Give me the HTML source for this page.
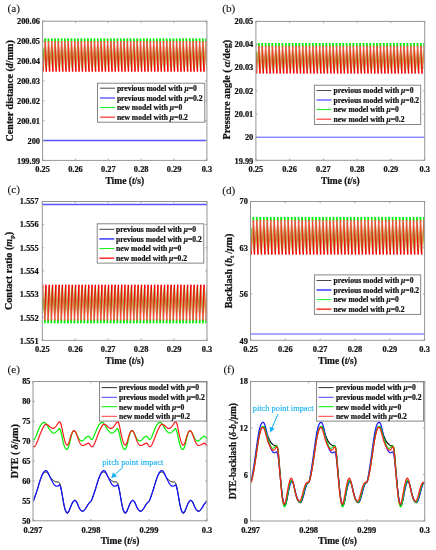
<!DOCTYPE html>
<html lang="en"><head><meta charset="utf-8"><title>Figure</title>
<style>html,body{margin:0;padding:0;background:#fff;}svg{display:block;}text{fill:#111;stroke:#111;stroke-width:.22px;}text.ns{stroke-width:.1px;}text.cy{fill:#12b0f0;stroke:#12b0f0;stroke-width:.12px;}</style></head><body>
<svg width="436" height="550" viewBox="0 0 436 550" font-family="'Liberation Serif', 'DejaVu Serif', serif" >
<rect width="436" height="550" fill="#fff"/>
<defs><filter id="wb" x="0" y="0" width="436" height="550" filterUnits="userSpaceOnUse"><feGaussianBlur stdDeviation="0.6"/></filter></defs>
<g>
<line x1="43.3" y1="48.5" x2="43.3" y2="60" stroke="#00ee00" stroke-width="1.2"/>
<defs><clipPath id="ca"><rect x="42.9" y="21.2" width="163.7" height="139.2"/></clipPath>
<linearGradient id="bga" x1="0" y1="44.67" x2="0" y2="67.93" gradientUnits="userSpaceOnUse"><stop offset="0" stop-color="#bca848" stop-opacity="0"/><stop offset="0.4" stop-color="#bca848" stop-opacity="0.75"/><stop offset="0.6" stop-color="#bca848" stop-opacity="0.75"/><stop offset="1" stop-color="#bca848" stop-opacity="0"/></linearGradient>
<linearGradient id="rga" x1="0" y1="41" x2="0" y2="71.6" gradientUnits="userSpaceOnUse"><stop offset="0" stop-color="#ff5248"/><stop offset="0.5" stop-color="#e22a12"/><stop offset="1" stop-color="#f60000"/></linearGradient></defs>
<g clip-path="url(#ca)"><g filter="url(#wb)" fill="none">
<rect x="42.6" y="44.67" width="164.3" height="23.26" fill="url(#bga)"/>
<path d="M38.21 38.4L39.31 68.5M41.49 38.4L42.59 68.5M44.78 38.4L45.88 68.5M48.06 38.4L49.16 68.5M51.35 38.4L52.45 68.5M54.64 38.4L55.74 68.5M57.92 38.4L59.02 68.5M61.21 38.4L62.31 68.5M64.49 38.4L65.59 68.5M67.78 38.4L68.88 68.5M71.07 38.4L72.17 68.5M74.35 38.4L75.45 68.5M77.64 38.4L78.74 68.5M80.92 38.4L82.02 68.5M84.21 38.4L85.31 68.5M87.5 38.4L88.6 68.5M90.78 38.4L91.88 68.5M94.07 38.4L95.17 68.5M97.35 38.4L98.45 68.5M100.64 38.4L101.74 68.5M103.93 38.4L105.03 68.5M107.21 38.4L108.31 68.5M110.5 38.4L111.6 68.5M113.78 38.4L114.88 68.5M117.07 38.4L118.17 68.5M120.36 38.4L121.46 68.5M123.64 38.4L124.74 68.5M126.93 38.4L128.03 68.5M130.21 38.4L131.31 68.5M133.5 38.4L134.6 68.5M136.79 38.4L137.89 68.5M140.07 38.4L141.17 68.5M143.36 38.4L144.46 68.5M146.64 38.4L147.74 68.5M149.93 38.4L151.03 68.5M153.22 38.4L154.32 68.5M156.5 38.4L157.6 68.5M159.79 38.4L160.89 68.5M163.07 38.4L164.17 68.5M166.36 38.4L167.46 68.5M169.65 38.4L170.75 68.5M172.93 38.4L174.03 68.5M176.22 38.4L177.32 68.5M179.5 38.4L180.6 68.5M182.79 38.4L183.89 68.5M186.08 38.4L187.18 68.5M189.36 38.4L190.46 68.5M192.65 38.4L193.75 68.5M195.93 38.4L197.03 68.5M199.22 38.4L200.32 68.5M202.51 38.4L203.61 68.5M205.79 38.4L206.89 68.5M209.08 38.4L210.18 68.5" stroke="#00e800" stroke-width="1.0" stroke-opacity="0.75"/>
<path d="M39.76 71.6L41.94 41M43.04 71.6L45.23 41M46.33 71.6L48.51 41M49.61 71.6L51.8 41M52.9 71.6L55.09 41M56.19 71.6L58.37 41M59.47 71.6L61.66 41M62.76 71.6L64.94 41M66.04 71.6L68.23 41M69.33 71.6L71.52 41M72.62 71.6L74.8 41M75.9 71.6L78.09 41M79.19 71.6L81.37 41M82.47 71.6L84.66 41M85.76 71.6L87.95 41M89.05 71.6L91.23 41M92.33 71.6L94.52 41M95.62 71.6L97.8 41M98.9 71.6L101.09 41M102.19 71.6L104.38 41M105.48 71.6L107.66 41M108.76 71.6L110.95 41M112.05 71.6L114.23 41M115.33 71.6L117.52 41M118.62 71.6L120.81 41M121.91 71.6L124.09 41M125.19 71.6L127.38 41M128.48 71.6L130.66 41M131.76 71.6L133.95 41M135.05 71.6L137.24 41M138.34 71.6L140.52 41M141.62 71.6L143.81 41M144.91 71.6L147.09 41M148.19 71.6L150.38 41M151.48 71.6L153.67 41M154.77 71.6L156.95 41M158.05 71.6L160.24 41M161.34 71.6L163.52 41M164.62 71.6L166.81 41M167.91 71.6L170.1 41M171.2 71.6L173.38 41M174.48 71.6L176.67 41M177.77 71.6L179.95 41M181.05 71.6L183.24 41M184.34 71.6L186.53 41M187.63 71.6L189.81 41M190.91 71.6L193.1 41M194.2 71.6L196.38 41M197.48 71.6L199.67 41M200.77 71.6L202.96 41M204.06 71.6L206.24 41M207.34 71.6L209.53 41M210.63 71.6L212.81 41" stroke="#ff2a1a" stroke-width="0.55" stroke-opacity="0.8"/>
<path d="M38.66 38.4L38.77 42.5M41.94 38.4L42.05 42.5M45.23 38.4L45.34 42.5M48.51 38.4L48.62 42.5M51.8 38.4L51.91 42.5M55.09 38.4L55.2 42.5M58.37 38.4L58.48 42.5M61.66 38.4L61.77 42.5M64.94 38.4L65.05 42.5M68.23 38.4L68.34 42.5M71.52 38.4L71.63 42.5M74.8 38.4L74.91 42.5M78.09 38.4L78.2 42.5M81.37 38.4L81.48 42.5M84.66 38.4L84.77 42.5M87.95 38.4L88.06 42.5M91.23 38.4L91.34 42.5M94.52 38.4L94.63 42.5M97.8 38.4L97.91 42.5M101.09 38.4L101.2 42.5M104.38 38.4L104.49 42.5M107.66 38.4L107.77 42.5M110.95 38.4L111.06 42.5M114.23 38.4L114.34 42.5M117.52 38.4L117.63 42.5M120.81 38.4L120.92 42.5M124.09 38.4L124.2 42.5M127.38 38.4L127.49 42.5M130.66 38.4L130.77 42.5M133.95 38.4L134.06 42.5M137.24 38.4L137.35 42.5M140.52 38.4L140.63 42.5M143.81 38.4L143.92 42.5M147.09 38.4L147.2 42.5M150.38 38.4L150.49 42.5M153.67 38.4L153.78 42.5M156.95 38.4L157.06 42.5M160.24 38.4L160.35 42.5M163.52 38.4L163.63 42.5M166.81 38.4L166.92 42.5M170.1 38.4L170.21 42.5M173.38 38.4L173.49 42.5M176.67 38.4L176.78 42.5M179.95 38.4L180.06 42.5M183.24 38.4L183.35 42.5M186.53 38.4L186.64 42.5M189.81 38.4L189.92 42.5M193.1 38.4L193.21 42.5M196.38 38.4L196.49 42.5M199.67 38.4L199.78 42.5M202.96 38.4L203.07 42.5M206.24 38.4L206.35 42.5M209.53 38.4L209.64 42.5" stroke="#00f000" stroke-width="1.6"/>
<path d="M38.66 41L39.76 71.6M41.94 41L43.04 71.6M45.23 41L46.33 71.6M48.51 41L49.61 71.6M51.8 41L52.9 71.6M55.09 41L56.19 71.6M58.37 41L59.47 71.6M61.66 41L62.76 71.6M64.94 41L66.04 71.6M68.23 41L69.33 71.6M71.52 41L72.62 71.6M74.8 41L75.9 71.6M78.09 41L79.19 71.6M81.37 41L82.47 71.6M84.66 41L85.76 71.6M87.95 41L89.05 71.6M91.23 41L92.33 71.6M94.52 41L95.62 71.6M97.8 41L98.9 71.6M101.09 41L102.19 71.6M104.38 41L105.48 71.6M107.66 41L108.76 71.6M110.95 41L112.05 71.6M114.23 41L115.33 71.6M117.52 41L118.62 71.6M120.81 41L121.91 71.6M124.09 41L125.19 71.6M127.38 41L128.48 71.6M130.66 41L131.76 71.6M133.95 41L135.05 71.6M137.24 41L138.34 71.6M140.52 41L141.62 71.6M143.81 41L144.91 71.6M147.09 41L148.19 71.6M150.38 41L151.48 71.6M153.67 41L154.77 71.6M156.95 41L158.05 71.6M160.24 41L161.34 71.6M163.52 41L164.62 71.6M166.81 41L167.91 71.6M170.1 41L171.2 71.6M173.38 41L174.48 71.6M176.67 41L177.77 71.6M179.95 41L181.05 71.6M183.24 41L184.34 71.6M186.53 41L187.63 71.6M189.81 41L190.91 71.6M193.1 41L194.2 71.6M196.38 41L197.48 71.6M199.67 41L200.77 71.6M202.96 41L204.06 71.6M206.24 41L207.34 71.6M209.53 41L210.63 71.6" stroke="url(#rga)" stroke-width="1.45"/>
<path d="M39.21 56.3L39.76 71.6M42.49 56.3L43.04 71.6M45.78 56.3L46.33 71.6M49.06 56.3L49.61 71.6M52.35 56.3L52.9 71.6M55.64 56.3L56.19 71.6M58.92 56.3L59.47 71.6M62.21 56.3L62.76 71.6M65.49 56.3L66.04 71.6M68.78 56.3L69.33 71.6M72.07 56.3L72.62 71.6M75.35 56.3L75.9 71.6M78.64 56.3L79.19 71.6M81.92 56.3L82.47 71.6M85.21 56.3L85.76 71.6M88.5 56.3L89.05 71.6M91.78 56.3L92.33 71.6M95.07 56.3L95.62 71.6M98.35 56.3L98.9 71.6M101.64 56.3L102.19 71.6M104.93 56.3L105.48 71.6M108.21 56.3L108.76 71.6M111.5 56.3L112.05 71.6M114.78 56.3L115.33 71.6M118.07 56.3L118.62 71.6M121.36 56.3L121.91 71.6M124.64 56.3L125.19 71.6M127.93 56.3L128.48 71.6M131.21 56.3L131.76 71.6M134.5 56.3L135.05 71.6M137.79 56.3L138.34 71.6M141.07 56.3L141.62 71.6M144.36 56.3L144.91 71.6M147.64 56.3L148.19 71.6M150.93 56.3L151.48 71.6M154.22 56.3L154.77 71.6M157.5 56.3L158.05 71.6M160.79 56.3L161.34 71.6M164.07 56.3L164.62 71.6M167.36 56.3L167.91 71.6M170.65 56.3L171.2 71.6M173.93 56.3L174.48 71.6M177.22 56.3L177.77 71.6M180.5 56.3L181.05 71.6M183.79 56.3L184.34 71.6M187.08 56.3L187.63 71.6M190.36 56.3L190.91 71.6M193.65 56.3L194.2 71.6M196.93 56.3L197.48 71.6M200.22 56.3L200.77 71.6M203.51 56.3L204.06 71.6M206.79 56.3L207.34 71.6M210.08 56.3L210.63 71.6" stroke="#f00000" stroke-width="0.35"/>
</g></g>
<line x1="42.6" y1="140.5" x2="206.9" y2="140.5" stroke="#5555ff" stroke-width="1.3"/>
<rect x="42.6" y="21.2" width="164.3" height="139.2" fill="none" stroke="#969696" stroke-width="1.0"/>
<path d="M42.6 160.4v-1.8M42.6 21.2v1.8M75.46 160.4v-1.8M75.46 21.2v1.8M108.32 160.4v-1.8M108.32 21.2v1.8M141.18 160.4v-1.8M141.18 21.2v1.8M174.04 160.4v-1.8M174.04 21.2v1.8M206.9 160.4v-1.8M206.9 21.2v1.8M42.6 160.4h1.8M206.9 160.4h-1.8M42.6 140.51h1.8M206.9 140.51h-1.8M42.6 120.63h1.8M206.9 120.63h-1.8M42.6 100.74h1.8M206.9 100.74h-1.8M42.6 80.86h1.8M206.9 80.86h-1.8M42.6 60.97h1.8M206.9 60.97h-1.8M42.6 41.09h1.8M206.9 41.09h-1.8M42.6 21.2h1.8M206.9 21.2h-1.8" stroke="#969696" stroke-width="0.8" fill="none"/>
<text x="42.6" y="172.3" text-anchor="middle" font-size="8.4" font-weight="bold">0.25</text>
<text x="75.46" y="172.3" text-anchor="middle" font-size="8.4" font-weight="bold">0.26</text>
<text x="108.32" y="172.3" text-anchor="middle" font-size="8.4" font-weight="bold">0.27</text>
<text x="141.18" y="172.3" text-anchor="middle" font-size="8.4" font-weight="bold">0.28</text>
<text x="174.04" y="172.3" text-anchor="middle" font-size="8.4" font-weight="bold">0.29</text>
<text x="206.9" y="172.3" text-anchor="middle" font-size="8.4" font-weight="bold">0.3</text>
<text x="40" y="163.85" text-anchor="end" font-size="8.4" font-weight="bold">199.99</text>
<text x="40" y="143.82" text-anchor="end" font-size="8.4" font-weight="bold">200</text>
<text x="40" y="123.79" text-anchor="end" font-size="8.4" font-weight="bold">200.01</text>
<text x="40" y="103.76" text-anchor="end" font-size="8.4" font-weight="bold">200.02</text>
<text x="40" y="83.74" text-anchor="end" font-size="8.4" font-weight="bold">200.03</text>
<text x="40" y="63.71" text-anchor="end" font-size="8.4" font-weight="bold">200.04</text>
<text x="40" y="43.68" text-anchor="end" font-size="8.4" font-weight="bold">200.05</text>
<text x="40" y="23.65" text-anchor="end" font-size="8.4" font-weight="bold">200.06</text>
<text x="124.75" y="183.6" text-anchor="middle" font-size="9.5" font-weight="bold">Time (<tspan font-style="italic">t</tspan>/s)</text>
<text transform="translate(13.2 90.8) rotate(-90)" text-anchor="middle" font-size="10.1" font-weight="bold">Center distance (<tspan font-style="italic">d</tspan>/mm)</text>
<text x="7.6" y="11.8" font-size="11.2" class="ns">(a)</text>
<rect x="97.5" y="83.2" width="107.3" height="39" fill="#fff" stroke="#7a7a7a" stroke-width="0.9"/>
<line x1="100" y1="88.2" x2="115.1" y2="88.2" stroke="#1a1a1a" stroke-width="0.8"/>
<text x="116.9" y="91" font-size="7.6" font-weight="bold">previous model with <tspan font-style="italic">μ</tspan>=0</text>
<line x1="100" y1="98" x2="115.1" y2="98" stroke="#4646ff" stroke-width="1.25"/>
<text x="116.9" y="100.8" font-size="7.6" font-weight="bold">previous model with <tspan font-style="italic">μ</tspan>=0.2</text>
<line x1="100" y1="107.5" x2="115.1" y2="107.5" stroke="#00f000" stroke-width="0.9"/>
<text x="116.9" y="110.3" font-size="7.6" font-weight="bold">new model with <tspan font-style="italic">μ</tspan>=0</text>
<line x1="100" y1="117.2" x2="115.1" y2="117.2" stroke="#ff3c3c" stroke-width="1.25"/>
<text x="116.9" y="120" font-size="7.6" font-weight="bold">new model with <tspan font-style="italic">μ</tspan>=0.2</text>
</g>
<g>
<line x1="256.6" y1="51.8" x2="256.6" y2="62.7" stroke="#00ee00" stroke-width="1.2"/>
<defs><clipPath id="cb"><rect x="256.2" y="21.4" width="168.2" height="138.9"/></clipPath>
<linearGradient id="bgb" x1="0" y1="49.12" x2="0" y2="70.18" gradientUnits="userSpaceOnUse"><stop offset="0" stop-color="#bca848" stop-opacity="0"/><stop offset="0.4" stop-color="#bca848" stop-opacity="0.75"/><stop offset="0.6" stop-color="#bca848" stop-opacity="0.75"/><stop offset="1" stop-color="#bca848" stop-opacity="0"/></linearGradient>
<linearGradient id="rgb" x1="0" y1="45.8" x2="0" y2="73.5" gradientUnits="userSpaceOnUse"><stop offset="0" stop-color="#ff5248"/><stop offset="0.5" stop-color="#e22a12"/><stop offset="1" stop-color="#f60000"/></linearGradient></defs>
<g clip-path="url(#cb)"><g filter="url(#wb)" fill="none">
<rect x="255.9" y="49.12" width="168.8" height="21.05" fill="url(#bgb)"/>
<path d="M251.7 43L252.8 70.5M255.08 43L256.18 70.5M258.45 43L259.55 70.5M261.83 43L262.93 70.5M265.21 43L266.31 70.5M268.58 43L269.68 70.5M271.96 43L273.06 70.5M275.33 43L276.43 70.5M278.71 43L279.81 70.5M282.09 43L283.19 70.5M285.46 43L286.56 70.5M288.84 43L289.94 70.5M292.21 43L293.31 70.5M295.59 43L296.69 70.5M298.97 43L300.07 70.5M302.34 43L303.44 70.5M305.72 43L306.82 70.5M309.09 43L310.19 70.5M312.47 43L313.57 70.5M315.85 43L316.95 70.5M319.22 43L320.32 70.5M322.6 43L323.7 70.5M325.97 43L327.07 70.5M329.35 43L330.45 70.5M332.73 43L333.83 70.5M336.1 43L337.2 70.5M339.48 43L340.58 70.5M342.85 43L343.95 70.5M346.23 43L347.33 70.5M349.61 43L350.71 70.5M352.98 43L354.08 70.5M356.36 43L357.46 70.5M359.73 43L360.83 70.5M363.11 43L364.21 70.5M366.49 43L367.59 70.5M369.86 43L370.96 70.5M373.24 43L374.34 70.5M376.61 43L377.71 70.5M379.99 43L381.09 70.5M383.37 43L384.47 70.5M386.74 43L387.84 70.5M390.12 43L391.22 70.5M393.49 43L394.59 70.5M396.87 43L397.97 70.5M400.25 43L401.35 70.5M403.62 43L404.72 70.5M407 43L408.1 70.5M410.37 43L411.47 70.5M413.75 43L414.85 70.5M417.13 43L418.23 70.5M420.5 43L421.6 70.5M423.88 43L424.98 70.5M427.25 43L428.35 70.5" stroke="#00e800" stroke-width="1.0" stroke-opacity="0.75"/>
<path d="M253.25 73.5L255.53 45.8M256.63 73.5L258.9 45.8M260 73.5L262.28 45.8M263.38 73.5L265.66 45.8M266.76 73.5L269.03 45.8M270.13 73.5L272.41 45.8M273.51 73.5L275.78 45.8M276.88 73.5L279.16 45.8M280.26 73.5L282.54 45.8M283.64 73.5L285.91 45.8M287.01 73.5L289.29 45.8M290.39 73.5L292.66 45.8M293.76 73.5L296.04 45.8M297.14 73.5L299.42 45.8M300.52 73.5L302.79 45.8M303.89 73.5L306.17 45.8M307.27 73.5L309.54 45.8M310.64 73.5L312.92 45.8M314.02 73.5L316.3 45.8M317.4 73.5L319.67 45.8M320.77 73.5L323.05 45.8M324.15 73.5L326.42 45.8M327.52 73.5L329.8 45.8M330.9 73.5L333.18 45.8M334.28 73.5L336.55 45.8M337.65 73.5L339.93 45.8M341.03 73.5L343.3 45.8M344.4 73.5L346.68 45.8M347.78 73.5L350.06 45.8M351.16 73.5L353.43 45.8M354.53 73.5L356.81 45.8M357.91 73.5L360.18 45.8M361.28 73.5L363.56 45.8M364.66 73.5L366.94 45.8M368.04 73.5L370.31 45.8M371.41 73.5L373.69 45.8M374.79 73.5L377.06 45.8M378.16 73.5L380.44 45.8M381.54 73.5L383.82 45.8M384.92 73.5L387.19 45.8M388.29 73.5L390.57 45.8M391.67 73.5L393.94 45.8M395.04 73.5L397.32 45.8M398.42 73.5L400.7 45.8M401.8 73.5L404.07 45.8M405.17 73.5L407.45 45.8M408.55 73.5L410.82 45.8M411.92 73.5L414.2 45.8M415.3 73.5L417.58 45.8M418.68 73.5L420.95 45.8M422.05 73.5L424.33 45.8M425.43 73.5L427.7 45.8M428.8 73.5L431.08 45.8" stroke="#ff2a1a" stroke-width="0.55" stroke-opacity="0.8"/>
<path d="M252.15 43L252.26 47.3M255.53 43L255.64 47.3M258.9 43L259.01 47.3M262.28 43L262.39 47.3M265.66 43L265.77 47.3M269.03 43L269.14 47.3M272.41 43L272.52 47.3M275.78 43L275.89 47.3M279.16 43L279.27 47.3M282.54 43L282.65 47.3M285.91 43L286.02 47.3M289.29 43L289.4 47.3M292.66 43L292.77 47.3M296.04 43L296.15 47.3M299.42 43L299.53 47.3M302.79 43L302.9 47.3M306.17 43L306.28 47.3M309.54 43L309.65 47.3M312.92 43L313.03 47.3M316.3 43L316.41 47.3M319.67 43L319.78 47.3M323.05 43L323.16 47.3M326.42 43L326.53 47.3M329.8 43L329.91 47.3M333.18 43L333.29 47.3M336.55 43L336.66 47.3M339.93 43L340.04 47.3M343.3 43L343.41 47.3M346.68 43L346.79 47.3M350.06 43L350.17 47.3M353.43 43L353.54 47.3M356.81 43L356.92 47.3M360.18 43L360.29 47.3M363.56 43L363.67 47.3M366.94 43L367.05 47.3M370.31 43L370.42 47.3M373.69 43L373.8 47.3M377.06 43L377.17 47.3M380.44 43L380.55 47.3M383.82 43L383.93 47.3M387.19 43L387.3 47.3M390.57 43L390.68 47.3M393.94 43L394.05 47.3M397.32 43L397.43 47.3M400.7 43L400.81 47.3M404.07 43L404.18 47.3M407.45 43L407.56 47.3M410.82 43L410.93 47.3M414.2 43L414.31 47.3M417.58 43L417.69 47.3M420.95 43L421.06 47.3M424.33 43L424.44 47.3M427.7 43L427.81 47.3" stroke="#00f000" stroke-width="1.6"/>
<path d="M252.15 45.8L253.25 73.5M255.53 45.8L256.63 73.5M258.9 45.8L260 73.5M262.28 45.8L263.38 73.5M265.66 45.8L266.76 73.5M269.03 45.8L270.13 73.5M272.41 45.8L273.51 73.5M275.78 45.8L276.88 73.5M279.16 45.8L280.26 73.5M282.54 45.8L283.64 73.5M285.91 45.8L287.01 73.5M289.29 45.8L290.39 73.5M292.66 45.8L293.76 73.5M296.04 45.8L297.14 73.5M299.42 45.8L300.52 73.5M302.79 45.8L303.89 73.5M306.17 45.8L307.27 73.5M309.54 45.8L310.64 73.5M312.92 45.8L314.02 73.5M316.3 45.8L317.4 73.5M319.67 45.8L320.77 73.5M323.05 45.8L324.15 73.5M326.42 45.8L327.52 73.5M329.8 45.8L330.9 73.5M333.18 45.8L334.28 73.5M336.55 45.8L337.65 73.5M339.93 45.8L341.03 73.5M343.3 45.8L344.4 73.5M346.68 45.8L347.78 73.5M350.06 45.8L351.16 73.5M353.43 45.8L354.53 73.5M356.81 45.8L357.91 73.5M360.18 45.8L361.28 73.5M363.56 45.8L364.66 73.5M366.94 45.8L368.04 73.5M370.31 45.8L371.41 73.5M373.69 45.8L374.79 73.5M377.06 45.8L378.16 73.5M380.44 45.8L381.54 73.5M383.82 45.8L384.92 73.5M387.19 45.8L388.29 73.5M390.57 45.8L391.67 73.5M393.94 45.8L395.04 73.5M397.32 45.8L398.42 73.5M400.7 45.8L401.8 73.5M404.07 45.8L405.17 73.5M407.45 45.8L408.55 73.5M410.82 45.8L411.92 73.5M414.2 45.8L415.3 73.5M417.58 45.8L418.68 73.5M420.95 45.8L422.05 73.5M424.33 45.8L425.43 73.5M427.7 45.8L428.8 73.5" stroke="url(#rgb)" stroke-width="1.45"/>
<path d="M252.7 59.65L253.25 73.5M256.08 59.65L256.63 73.5M259.45 59.65L260 73.5M262.83 59.65L263.38 73.5M266.21 59.65L266.76 73.5M269.58 59.65L270.13 73.5M272.96 59.65L273.51 73.5M276.33 59.65L276.88 73.5M279.71 59.65L280.26 73.5M283.09 59.65L283.64 73.5M286.46 59.65L287.01 73.5M289.84 59.65L290.39 73.5M293.21 59.65L293.76 73.5M296.59 59.65L297.14 73.5M299.97 59.65L300.52 73.5M303.34 59.65L303.89 73.5M306.72 59.65L307.27 73.5M310.09 59.65L310.64 73.5M313.47 59.65L314.02 73.5M316.85 59.65L317.4 73.5M320.22 59.65L320.77 73.5M323.6 59.65L324.15 73.5M326.97 59.65L327.52 73.5M330.35 59.65L330.9 73.5M333.73 59.65L334.28 73.5M337.1 59.65L337.65 73.5M340.48 59.65L341.03 73.5M343.85 59.65L344.4 73.5M347.23 59.65L347.78 73.5M350.61 59.65L351.16 73.5M353.98 59.65L354.53 73.5M357.36 59.65L357.91 73.5M360.73 59.65L361.28 73.5M364.11 59.65L364.66 73.5M367.49 59.65L368.04 73.5M370.86 59.65L371.41 73.5M374.24 59.65L374.79 73.5M377.61 59.65L378.16 73.5M380.99 59.65L381.54 73.5M384.37 59.65L384.92 73.5M387.74 59.65L388.29 73.5M391.12 59.65L391.67 73.5M394.49 59.65L395.04 73.5M397.87 59.65L398.42 73.5M401.25 59.65L401.8 73.5M404.62 59.65L405.17 73.5M408 59.65L408.55 73.5M411.37 59.65L411.92 73.5M414.75 59.65L415.3 73.5M418.13 59.65L418.68 73.5M421.5 59.65L422.05 73.5M424.88 59.65L425.43 73.5M428.25 59.65L428.8 73.5" stroke="#f00000" stroke-width="0.35"/>
</g></g>
<line x1="255.9" y1="137.2" x2="424.7" y2="137.2" stroke="#5555ff" stroke-width="1.0"/>
<rect x="255.9" y="21.4" width="168.8" height="138.9" fill="none" stroke="#969696" stroke-width="1.0"/>
<path d="M255.9 160.3v-1.8M255.9 21.4v1.8M289.66 160.3v-1.8M289.66 21.4v1.8M323.42 160.3v-1.8M323.42 21.4v1.8M357.18 160.3v-1.8M357.18 21.4v1.8M390.94 160.3v-1.8M390.94 21.4v1.8M424.7 160.3v-1.8M424.7 21.4v1.8M255.9 160.3h1.8M424.7 160.3h-1.8M255.9 137.15h1.8M424.7 137.15h-1.8M255.9 114h1.8M424.7 114h-1.8M255.9 90.85h1.8M424.7 90.85h-1.8M255.9 67.7h1.8M424.7 67.7h-1.8M255.9 44.55h1.8M424.7 44.55h-1.8M255.9 21.4h1.8M424.7 21.4h-1.8" stroke="#969696" stroke-width="0.8" fill="none"/>
<text x="255.9" y="172.2" text-anchor="middle" font-size="8.4" font-weight="bold">0.25</text>
<text x="289.66" y="172.2" text-anchor="middle" font-size="8.4" font-weight="bold">0.26</text>
<text x="323.42" y="172.2" text-anchor="middle" font-size="8.4" font-weight="bold">0.27</text>
<text x="357.18" y="172.2" text-anchor="middle" font-size="8.4" font-weight="bold">0.28</text>
<text x="390.94" y="172.2" text-anchor="middle" font-size="8.4" font-weight="bold">0.29</text>
<text x="424.7" y="172.2" text-anchor="middle" font-size="8.4" font-weight="bold">0.3</text>
<text x="253.3" y="163.75" text-anchor="end" font-size="8.4" font-weight="bold">19.99</text>
<text x="253.3" y="140.43" text-anchor="end" font-size="8.4" font-weight="bold">20</text>
<text x="253.3" y="117.12" text-anchor="end" font-size="8.4" font-weight="bold">20.01</text>
<text x="253.3" y="93.8" text-anchor="end" font-size="8.4" font-weight="bold">20.02</text>
<text x="253.3" y="70.48" text-anchor="end" font-size="8.4" font-weight="bold">20.03</text>
<text x="253.3" y="47.17" text-anchor="end" font-size="8.4" font-weight="bold">20.04</text>
<text x="253.3" y="23.85" text-anchor="end" font-size="8.4" font-weight="bold">20.05</text>
<text x="340.3" y="183.5" text-anchor="middle" font-size="9.5" font-weight="bold">Time (<tspan font-style="italic">t</tspan>/s)</text>
<text transform="translate(229.8 89.65) rotate(-90)" text-anchor="middle" font-size="10.35" font-weight="bold">Pressure angle (&#8201;<tspan font-style="italic">α</tspan>/deg)</text>
<text x="222.3" y="11.8" font-size="11.2" class="ns">(b)</text>
<rect x="314.4" y="85.2" width="106.3" height="39.3" fill="#fff" stroke="#7a7a7a" stroke-width="0.9"/>
<line x1="316.5" y1="90.5" x2="331.4" y2="90.5" stroke="#1a1a1a" stroke-width="0.8"/>
<text x="333.5" y="93.3" font-size="7.6" font-weight="bold">previous model with <tspan font-style="italic">μ</tspan>=0</text>
<line x1="316.5" y1="100" x2="331.4" y2="100" stroke="#4646ff" stroke-width="1.2"/>
<text x="333.5" y="102.8" font-size="7.6" font-weight="bold">previous model with <tspan font-style="italic">μ</tspan>=0.2</text>
<line x1="316.5" y1="109.6" x2="331.4" y2="109.6" stroke="#00f000" stroke-width="0.9"/>
<text x="333.5" y="112.4" font-size="7.6" font-weight="bold">new model with <tspan font-style="italic">μ</tspan>=0</text>
<line x1="316.5" y1="119.2" x2="331.4" y2="119.2" stroke="#ff3c3c" stroke-width="1.2"/>
<text x="333.5" y="122" font-size="7.6" font-weight="bold">new model with <tspan font-style="italic">μ</tspan>=0.2</text>
</g>
<g>
<line x1="43" y1="298.4" x2="43" y2="310.3" stroke="#00ee00" stroke-width="1.2"/>
<defs><clipPath id="cc"><rect x="42.6" y="201.5" width="164.1" height="138.9"/></clipPath>
<linearGradient id="bgc" x1="0" y1="289.07" x2="0" y2="316.13" gradientUnits="userSpaceOnUse"><stop offset="0" stop-color="#bca848" stop-opacity="0"/><stop offset="0.4" stop-color="#bca848" stop-opacity="0.75"/><stop offset="0.6" stop-color="#bca848" stop-opacity="0.75"/><stop offset="1" stop-color="#bca848" stop-opacity="0"/></linearGradient>
<linearGradient id="rgc" x1="0" y1="320.4" x2="0" y2="284.8" gradientUnits="userSpaceOnUse"><stop offset="0" stop-color="#ff5248"/><stop offset="0.5" stop-color="#e22a12"/><stop offset="1" stop-color="#f60000"/></linearGradient></defs>
<g clip-path="url(#cc)"><g filter="url(#wb)" fill="none">
<rect x="42.3" y="289.07" width="164.7" height="27.06" fill="url(#bgc)"/>
<path d="M37.83 323.3L38.93 287.5M41.13 323.3L42.23 287.5M44.42 323.3L45.52 287.5M47.71 323.3L48.81 287.5M51.01 323.3L52.11 287.5M54.3 323.3L55.4 287.5M57.6 323.3L58.7 287.5M60.89 323.3L61.99 287.5M64.18 323.3L65.28 287.5M67.48 323.3L68.58 287.5M70.77 323.3L71.87 287.5M74.07 323.3L75.17 287.5M77.36 323.3L78.46 287.5M80.65 323.3L81.75 287.5M83.95 323.3L85.05 287.5M87.24 323.3L88.34 287.5M90.54 323.3L91.64 287.5M93.83 323.3L94.93 287.5M97.12 323.3L98.22 287.5M100.42 323.3L101.52 287.5M103.71 323.3L104.81 287.5M107.01 323.3L108.11 287.5M110.3 323.3L111.4 287.5M113.59 323.3L114.69 287.5M116.89 323.3L117.99 287.5M120.18 323.3L121.28 287.5M123.48 323.3L124.58 287.5M126.77 323.3L127.87 287.5M130.06 323.3L131.16 287.5M133.36 323.3L134.46 287.5M136.65 323.3L137.75 287.5M139.95 323.3L141.05 287.5M143.24 323.3L144.34 287.5M146.53 323.3L147.63 287.5M149.83 323.3L150.93 287.5M153.12 323.3L154.22 287.5M156.42 323.3L157.52 287.5M159.71 323.3L160.81 287.5M163 323.3L164.1 287.5M166.3 323.3L167.4 287.5M169.59 323.3L170.69 287.5M172.89 323.3L173.99 287.5M176.18 323.3L177.28 287.5M179.47 323.3L180.57 287.5M182.77 323.3L183.87 287.5M186.06 323.3L187.16 287.5M189.36 323.3L190.46 287.5M192.65 323.3L193.75 287.5M195.94 323.3L197.04 287.5M199.24 323.3L200.34 287.5M202.53 323.3L203.63 287.5M205.83 323.3L206.93 287.5M209.12 323.3L210.22 287.5" stroke="#00e800" stroke-width="1.0" stroke-opacity="0.75"/>
<path d="M39.38 284.8L41.58 320.4M42.68 284.8L44.87 320.4M45.97 284.8L48.16 320.4M49.26 284.8L51.46 320.4M52.56 284.8L54.75 320.4M55.85 284.8L58.05 320.4M59.15 284.8L61.34 320.4M62.44 284.8L64.63 320.4M65.73 284.8L67.93 320.4M69.03 284.8L71.22 320.4M72.32 284.8L74.52 320.4M75.62 284.8L77.81 320.4M78.91 284.8L81.1 320.4M82.2 284.8L84.4 320.4M85.5 284.8L87.69 320.4M88.79 284.8L90.99 320.4M92.09 284.8L94.28 320.4M95.38 284.8L97.57 320.4M98.67 284.8L100.87 320.4M101.97 284.8L104.16 320.4M105.26 284.8L107.46 320.4M108.56 284.8L110.75 320.4M111.85 284.8L114.04 320.4M115.14 284.8L117.34 320.4M118.44 284.8L120.63 320.4M121.73 284.8L123.93 320.4M125.03 284.8L127.22 320.4M128.32 284.8L130.51 320.4M131.61 284.8L133.81 320.4M134.91 284.8L137.1 320.4M138.2 284.8L140.4 320.4M141.5 284.8L143.69 320.4M144.79 284.8L146.98 320.4M148.08 284.8L150.28 320.4M151.38 284.8L153.57 320.4M154.67 284.8L156.87 320.4M157.97 284.8L160.16 320.4M161.26 284.8L163.45 320.4M164.55 284.8L166.75 320.4M167.85 284.8L170.04 320.4M171.14 284.8L173.34 320.4M174.44 284.8L176.63 320.4M177.73 284.8L179.92 320.4M181.02 284.8L183.22 320.4M184.32 284.8L186.51 320.4M187.61 284.8L189.81 320.4M190.91 284.8L193.1 320.4M194.2 284.8L196.39 320.4M197.49 284.8L199.69 320.4M200.79 284.8L202.98 320.4M204.08 284.8L206.28 320.4M207.38 284.8L209.57 320.4M210.67 284.8L212.86 320.4" stroke="#ff2a1a" stroke-width="0.55" stroke-opacity="0.8"/>
<path d="M38.28 323.3L38.39 318.9M41.58 323.3L41.69 318.9M44.87 323.3L44.98 318.9M48.16 323.3L48.27 318.9M51.46 323.3L51.57 318.9M54.75 323.3L54.86 318.9M58.05 323.3L58.16 318.9M61.34 323.3L61.45 318.9M64.63 323.3L64.74 318.9M67.93 323.3L68.04 318.9M71.22 323.3L71.33 318.9M74.52 323.3L74.63 318.9M77.81 323.3L77.92 318.9M81.1 323.3L81.21 318.9M84.4 323.3L84.51 318.9M87.69 323.3L87.8 318.9M90.99 323.3L91.1 318.9M94.28 323.3L94.39 318.9M97.57 323.3L97.68 318.9M100.87 323.3L100.98 318.9M104.16 323.3L104.27 318.9M107.46 323.3L107.57 318.9M110.75 323.3L110.86 318.9M114.04 323.3L114.15 318.9M117.34 323.3L117.45 318.9M120.63 323.3L120.74 318.9M123.93 323.3L124.04 318.9M127.22 323.3L127.33 318.9M130.51 323.3L130.62 318.9M133.81 323.3L133.92 318.9M137.1 323.3L137.21 318.9M140.4 323.3L140.51 318.9M143.69 323.3L143.8 318.9M146.98 323.3L147.09 318.9M150.28 323.3L150.39 318.9M153.57 323.3L153.68 318.9M156.87 323.3L156.98 318.9M160.16 323.3L160.27 318.9M163.45 323.3L163.56 318.9M166.75 323.3L166.86 318.9M170.04 323.3L170.15 318.9M173.34 323.3L173.45 318.9M176.63 323.3L176.74 318.9M179.92 323.3L180.03 318.9M183.22 323.3L183.33 318.9M186.51 323.3L186.62 318.9M189.81 323.3L189.92 318.9M193.1 323.3L193.21 318.9M196.39 323.3L196.5 318.9M199.69 323.3L199.8 318.9M202.98 323.3L203.09 318.9M206.28 323.3L206.39 318.9M209.57 323.3L209.68 318.9" stroke="#00f000" stroke-width="1.6"/>
<path d="M38.28 320.4L39.38 284.8M41.58 320.4L42.68 284.8M44.87 320.4L45.97 284.8M48.16 320.4L49.26 284.8M51.46 320.4L52.56 284.8M54.75 320.4L55.85 284.8M58.05 320.4L59.15 284.8M61.34 320.4L62.44 284.8M64.63 320.4L65.73 284.8M67.93 320.4L69.03 284.8M71.22 320.4L72.32 284.8M74.52 320.4L75.62 284.8M77.81 320.4L78.91 284.8M81.1 320.4L82.2 284.8M84.4 320.4L85.5 284.8M87.69 320.4L88.79 284.8M90.99 320.4L92.09 284.8M94.28 320.4L95.38 284.8M97.57 320.4L98.67 284.8M100.87 320.4L101.97 284.8M104.16 320.4L105.26 284.8M107.46 320.4L108.56 284.8M110.75 320.4L111.85 284.8M114.04 320.4L115.14 284.8M117.34 320.4L118.44 284.8M120.63 320.4L121.73 284.8M123.93 320.4L125.03 284.8M127.22 320.4L128.32 284.8M130.51 320.4L131.61 284.8M133.81 320.4L134.91 284.8M137.1 320.4L138.2 284.8M140.4 320.4L141.5 284.8M143.69 320.4L144.79 284.8M146.98 320.4L148.08 284.8M150.28 320.4L151.38 284.8M153.57 320.4L154.67 284.8M156.87 320.4L157.97 284.8M160.16 320.4L161.26 284.8M163.45 320.4L164.55 284.8M166.75 320.4L167.85 284.8M170.04 320.4L171.14 284.8M173.34 320.4L174.44 284.8M176.63 320.4L177.73 284.8M179.92 320.4L181.02 284.8M183.22 320.4L184.32 284.8M186.51 320.4L187.61 284.8M189.81 320.4L190.91 284.8M193.1 320.4L194.2 284.8M196.39 320.4L197.49 284.8M199.69 320.4L200.79 284.8M202.98 320.4L204.08 284.8M206.28 320.4L207.38 284.8M209.57 320.4L210.67 284.8" stroke="url(#rgc)" stroke-width="1.45"/>
<path d="M38.83 302.6L39.38 284.8M42.13 302.6L42.68 284.8M45.42 302.6L45.97 284.8M48.71 302.6L49.26 284.8M52.01 302.6L52.56 284.8M55.3 302.6L55.85 284.8M58.6 302.6L59.15 284.8M61.89 302.6L62.44 284.8M65.18 302.6L65.73 284.8M68.48 302.6L69.03 284.8M71.77 302.6L72.32 284.8M75.07 302.6L75.62 284.8M78.36 302.6L78.91 284.8M81.65 302.6L82.2 284.8M84.95 302.6L85.5 284.8M88.24 302.6L88.79 284.8M91.54 302.6L92.09 284.8M94.83 302.6L95.38 284.8M98.12 302.6L98.67 284.8M101.42 302.6L101.97 284.8M104.71 302.6L105.26 284.8M108.01 302.6L108.56 284.8M111.3 302.6L111.85 284.8M114.59 302.6L115.14 284.8M117.89 302.6L118.44 284.8M121.18 302.6L121.73 284.8M124.48 302.6L125.03 284.8M127.77 302.6L128.32 284.8M131.06 302.6L131.61 284.8M134.36 302.6L134.91 284.8M137.65 302.6L138.2 284.8M140.95 302.6L141.5 284.8M144.24 302.6L144.79 284.8M147.53 302.6L148.08 284.8M150.83 302.6L151.38 284.8M154.12 302.6L154.67 284.8M157.42 302.6L157.97 284.8M160.71 302.6L161.26 284.8M164 302.6L164.55 284.8M167.3 302.6L167.85 284.8M170.59 302.6L171.14 284.8M173.89 302.6L174.44 284.8M177.18 302.6L177.73 284.8M180.47 302.6L181.02 284.8M183.77 302.6L184.32 284.8M187.06 302.6L187.61 284.8M190.36 302.6L190.91 284.8M193.65 302.6L194.2 284.8M196.94 302.6L197.49 284.8M200.24 302.6L200.79 284.8M203.53 302.6L204.08 284.8M206.83 302.6L207.38 284.8M210.12 302.6L210.67 284.8" stroke="#f00000" stroke-width="0.35"/>
</g></g>
<line x1="42.3" y1="204.5" x2="207" y2="204.5" stroke="#5555ff" stroke-width="1.5"/>
<rect x="42.3" y="201.5" width="164.7" height="138.9" fill="none" stroke="#969696" stroke-width="1.0"/>
<path d="M42.3 340.4v-1.8M42.3 201.5v1.8M75.24 340.4v-1.8M75.24 201.5v1.8M108.18 340.4v-1.8M108.18 201.5v1.8M141.12 340.4v-1.8M141.12 201.5v1.8M174.06 340.4v-1.8M174.06 201.5v1.8M207 340.4v-1.8M207 201.5v1.8M42.3 340.4h1.8M207 340.4h-1.8M42.3 317.25h1.8M207 317.25h-1.8M42.3 294.1h1.8M207 294.1h-1.8M42.3 270.95h1.8M207 270.95h-1.8M42.3 247.8h1.8M207 247.8h-1.8M42.3 224.65h1.8M207 224.65h-1.8M42.3 201.5h1.8M207 201.5h-1.8" stroke="#969696" stroke-width="0.8" fill="none"/>
<text x="42.3" y="352.3" text-anchor="middle" font-size="8.4" font-weight="bold">0.25</text>
<text x="75.24" y="352.3" text-anchor="middle" font-size="8.4" font-weight="bold">0.26</text>
<text x="108.18" y="352.3" text-anchor="middle" font-size="8.4" font-weight="bold">0.27</text>
<text x="141.12" y="352.3" text-anchor="middle" font-size="8.4" font-weight="bold">0.28</text>
<text x="174.06" y="352.3" text-anchor="middle" font-size="8.4" font-weight="bold">0.29</text>
<text x="207" y="352.3" text-anchor="middle" font-size="8.4" font-weight="bold">0.3</text>
<text x="38.7" y="343.85" text-anchor="end" font-size="8.4" font-weight="bold">1.551</text>
<text x="38.7" y="320.53" text-anchor="end" font-size="8.4" font-weight="bold">1.552</text>
<text x="38.7" y="297.22" text-anchor="end" font-size="8.4" font-weight="bold">1.553</text>
<text x="38.7" y="273.9" text-anchor="end" font-size="8.4" font-weight="bold">1.554</text>
<text x="38.7" y="250.58" text-anchor="end" font-size="8.4" font-weight="bold">1.555</text>
<text x="38.7" y="227.27" text-anchor="end" font-size="8.4" font-weight="bold">1.556</text>
<text x="38.7" y="203.95" text-anchor="end" font-size="8.4" font-weight="bold">1.557</text>
<text x="124.65" y="363.6" text-anchor="middle" font-size="9.5" font-weight="bold">Time (<tspan font-style="italic">t</tspan>/s)</text>
<text transform="translate(12 270.95) rotate(-90)" text-anchor="middle" font-size="10.1" font-weight="bold">Contact ratio (<tspan font-style="italic">m</tspan><tspan font-size="6.5" dy="2.2">p</tspan><tspan dy="-2.2" font-size="1">&#8203;</tspan>)</text>
<text x="7.6" y="193.3" font-size="11.2" class="ns">(c)</text>
<rect x="97.2" y="223.8" width="106.6" height="39.3" fill="#fff" stroke="#7a7a7a" stroke-width="0.9"/>
<line x1="99.3" y1="229.3" x2="114.3" y2="229.3" stroke="#1a1a1a" stroke-width="0.8"/>
<text x="116.1" y="232.1" font-size="7.6" font-weight="bold">previous model with <tspan font-style="italic">μ</tspan>=0</text>
<line x1="99.3" y1="238.9" x2="114.3" y2="238.9" stroke="#4646ff" stroke-width="1.6"/>
<text x="116.1" y="241.7" font-size="7.6" font-weight="bold">previous model with <tspan font-style="italic">μ</tspan>=0.2</text>
<line x1="99.3" y1="248.5" x2="114.3" y2="248.5" stroke="#00f000" stroke-width="0.9"/>
<text x="116.1" y="251.3" font-size="7.6" font-weight="bold">new model with <tspan font-style="italic">μ</tspan>=0</text>
<line x1="99.3" y1="258.2" x2="114.3" y2="258.2" stroke="#ff3c3c" stroke-width="1.6"/>
<text x="116.1" y="261" font-size="7.6" font-weight="bold">new model with <tspan font-style="italic">μ</tspan>=0.2</text>
</g>
<g>
<line x1="251.2" y1="228.4" x2="251.2" y2="242.1" stroke="#00ee00" stroke-width="1.2"/>
<defs><clipPath id="cd"><rect x="250.8" y="201.5" width="173.5" height="138.8"/></clipPath>
<linearGradient id="bgd" x1="0" y1="224.15" x2="0" y2="250.45" gradientUnits="userSpaceOnUse"><stop offset="0" stop-color="#bca848" stop-opacity="0"/><stop offset="0.4" stop-color="#bca848" stop-opacity="0.75"/><stop offset="0.6" stop-color="#bca848" stop-opacity="0.75"/><stop offset="1" stop-color="#bca848" stop-opacity="0"/></linearGradient>
<linearGradient id="rgd" x1="0" y1="220" x2="0" y2="254.6" gradientUnits="userSpaceOnUse"><stop offset="0" stop-color="#ff5248"/><stop offset="0.5" stop-color="#e22a12"/><stop offset="1" stop-color="#f60000"/></linearGradient></defs>
<g clip-path="url(#cd)"><g filter="url(#wb)" fill="none">
<rect x="250.5" y="224.15" width="174.1" height="26.3" fill="url(#bgd)"/>
<path d="M245.98 216.9L247.08 251.5M249.46 216.9L250.56 251.5M252.94 216.9L254.04 251.5M256.42 216.9L257.52 251.5M259.9 216.9L261 251.5M263.39 216.9L264.49 251.5M266.87 216.9L267.97 251.5M270.35 216.9L271.45 251.5M273.83 216.9L274.93 251.5M277.31 216.9L278.41 251.5M280.8 216.9L281.9 251.5M284.28 216.9L285.38 251.5M287.76 216.9L288.86 251.5M291.24 216.9L292.34 251.5M294.72 216.9L295.82 251.5M298.21 216.9L299.31 251.5M301.69 216.9L302.79 251.5M305.17 216.9L306.27 251.5M308.65 216.9L309.75 251.5M312.13 216.9L313.23 251.5M315.62 216.9L316.72 251.5M319.1 216.9L320.2 251.5M322.58 216.9L323.68 251.5M326.06 216.9L327.16 251.5M329.54 216.9L330.64 251.5M333.03 216.9L334.13 251.5M336.51 216.9L337.61 251.5M339.99 216.9L341.09 251.5M343.47 216.9L344.57 251.5M346.95 216.9L348.05 251.5M350.44 216.9L351.54 251.5M353.92 216.9L355.02 251.5M357.4 216.9L358.5 251.5M360.88 216.9L361.98 251.5M364.36 216.9L365.46 251.5M367.85 216.9L368.95 251.5M371.33 216.9L372.43 251.5M374.81 216.9L375.91 251.5M378.29 216.9L379.39 251.5M381.77 216.9L382.87 251.5M385.26 216.9L386.36 251.5M388.74 216.9L389.84 251.5M392.22 216.9L393.32 251.5M395.7 216.9L396.8 251.5M399.18 216.9L400.28 251.5M402.67 216.9L403.77 251.5M406.15 216.9L407.25 251.5M409.63 216.9L410.73 251.5M413.11 216.9L414.21 251.5M416.59 216.9L417.69 251.5M420.08 216.9L421.18 251.5M423.56 216.9L424.66 251.5M427.04 216.9L428.14 251.5" stroke="#00e800" stroke-width="1.0" stroke-opacity="0.75"/>
<path d="M247.53 254.6L249.91 220M251.01 254.6L253.39 220M254.49 254.6L256.87 220M257.97 254.6L260.35 220M261.45 254.6L263.84 220M264.94 254.6L267.32 220M268.42 254.6L270.8 220M271.9 254.6L274.28 220M275.38 254.6L277.76 220M278.86 254.6L281.25 220M282.35 254.6L284.73 220M285.83 254.6L288.21 220M289.31 254.6L291.69 220M292.79 254.6L295.17 220M296.27 254.6L298.66 220M299.76 254.6L302.14 220M303.24 254.6L305.62 220M306.72 254.6L309.1 220M310.2 254.6L312.58 220M313.68 254.6L316.07 220M317.17 254.6L319.55 220M320.65 254.6L323.03 220M324.13 254.6L326.51 220M327.61 254.6L329.99 220M331.09 254.6L333.48 220M334.58 254.6L336.96 220M338.06 254.6L340.44 220M341.54 254.6L343.92 220M345.02 254.6L347.4 220M348.5 254.6L350.89 220M351.99 254.6L354.37 220M355.47 254.6L357.85 220M358.95 254.6L361.33 220M362.43 254.6L364.81 220M365.91 254.6L368.3 220M369.4 254.6L371.78 220M372.88 254.6L375.26 220M376.36 254.6L378.74 220M379.84 254.6L382.22 220M383.32 254.6L385.71 220M386.81 254.6L389.19 220M390.29 254.6L392.67 220M393.77 254.6L396.15 220M397.25 254.6L399.63 220M400.73 254.6L403.12 220M404.22 254.6L406.6 220M407.7 254.6L410.08 220M411.18 254.6L413.56 220M414.66 254.6L417.04 220M418.14 254.6L420.53 220M421.63 254.6L424.01 220M425.11 254.6L427.49 220M428.59 254.6L430.97 220" stroke="#ff2a1a" stroke-width="0.55" stroke-opacity="0.8"/>
<path d="M246.43 216.9L246.54 221.5M249.91 216.9L250.02 221.5M253.39 216.9L253.5 221.5M256.87 216.9L256.98 221.5M260.35 216.9L260.46 221.5M263.84 216.9L263.95 221.5M267.32 216.9L267.43 221.5M270.8 216.9L270.91 221.5M274.28 216.9L274.39 221.5M277.76 216.9L277.87 221.5M281.25 216.9L281.36 221.5M284.73 216.9L284.84 221.5M288.21 216.9L288.32 221.5M291.69 216.9L291.8 221.5M295.17 216.9L295.28 221.5M298.66 216.9L298.77 221.5M302.14 216.9L302.25 221.5M305.62 216.9L305.73 221.5M309.1 216.9L309.21 221.5M312.58 216.9L312.69 221.5M316.07 216.9L316.18 221.5M319.55 216.9L319.66 221.5M323.03 216.9L323.14 221.5M326.51 216.9L326.62 221.5M329.99 216.9L330.1 221.5M333.48 216.9L333.59 221.5M336.96 216.9L337.07 221.5M340.44 216.9L340.55 221.5M343.92 216.9L344.03 221.5M347.4 216.9L347.51 221.5M350.89 216.9L351 221.5M354.37 216.9L354.48 221.5M357.85 216.9L357.96 221.5M361.33 216.9L361.44 221.5M364.81 216.9L364.92 221.5M368.3 216.9L368.41 221.5M371.78 216.9L371.89 221.5M375.26 216.9L375.37 221.5M378.74 216.9L378.85 221.5M382.22 216.9L382.33 221.5M385.71 216.9L385.82 221.5M389.19 216.9L389.3 221.5M392.67 216.9L392.78 221.5M396.15 216.9L396.26 221.5M399.63 216.9L399.74 221.5M403.12 216.9L403.23 221.5M406.6 216.9L406.71 221.5M410.08 216.9L410.19 221.5M413.56 216.9L413.67 221.5M417.04 216.9L417.15 221.5M420.53 216.9L420.64 221.5M424.01 216.9L424.12 221.5M427.49 216.9L427.6 221.5" stroke="#00f000" stroke-width="1.6"/>
<path d="M246.43 220L247.53 254.6M249.91 220L251.01 254.6M253.39 220L254.49 254.6M256.87 220L257.97 254.6M260.35 220L261.45 254.6M263.84 220L264.94 254.6M267.32 220L268.42 254.6M270.8 220L271.9 254.6M274.28 220L275.38 254.6M277.76 220L278.86 254.6M281.25 220L282.35 254.6M284.73 220L285.83 254.6M288.21 220L289.31 254.6M291.69 220L292.79 254.6M295.17 220L296.27 254.6M298.66 220L299.76 254.6M302.14 220L303.24 254.6M305.62 220L306.72 254.6M309.1 220L310.2 254.6M312.58 220L313.68 254.6M316.07 220L317.17 254.6M319.55 220L320.65 254.6M323.03 220L324.13 254.6M326.51 220L327.61 254.6M329.99 220L331.09 254.6M333.48 220L334.58 254.6M336.96 220L338.06 254.6M340.44 220L341.54 254.6M343.92 220L345.02 254.6M347.4 220L348.5 254.6M350.89 220L351.99 254.6M354.37 220L355.47 254.6M357.85 220L358.95 254.6M361.33 220L362.43 254.6M364.81 220L365.91 254.6M368.3 220L369.4 254.6M371.78 220L372.88 254.6M375.26 220L376.36 254.6M378.74 220L379.84 254.6M382.22 220L383.32 254.6M385.71 220L386.81 254.6M389.19 220L390.29 254.6M392.67 220L393.77 254.6M396.15 220L397.25 254.6M399.63 220L400.73 254.6M403.12 220L404.22 254.6M406.6 220L407.7 254.6M410.08 220L411.18 254.6M413.56 220L414.66 254.6M417.04 220L418.14 254.6M420.53 220L421.63 254.6M424.01 220L425.11 254.6M427.49 220L428.59 254.6" stroke="url(#rgd)" stroke-width="1.45"/>
<path d="M246.98 237.3L247.53 254.6M250.46 237.3L251.01 254.6M253.94 237.3L254.49 254.6M257.42 237.3L257.97 254.6M260.9 237.3L261.45 254.6M264.39 237.3L264.94 254.6M267.87 237.3L268.42 254.6M271.35 237.3L271.9 254.6M274.83 237.3L275.38 254.6M278.31 237.3L278.86 254.6M281.8 237.3L282.35 254.6M285.28 237.3L285.83 254.6M288.76 237.3L289.31 254.6M292.24 237.3L292.79 254.6M295.72 237.3L296.27 254.6M299.21 237.3L299.76 254.6M302.69 237.3L303.24 254.6M306.17 237.3L306.72 254.6M309.65 237.3L310.2 254.6M313.13 237.3L313.68 254.6M316.62 237.3L317.17 254.6M320.1 237.3L320.65 254.6M323.58 237.3L324.13 254.6M327.06 237.3L327.61 254.6M330.54 237.3L331.09 254.6M334.03 237.3L334.58 254.6M337.51 237.3L338.06 254.6M340.99 237.3L341.54 254.6M344.47 237.3L345.02 254.6M347.95 237.3L348.5 254.6M351.44 237.3L351.99 254.6M354.92 237.3L355.47 254.6M358.4 237.3L358.95 254.6M361.88 237.3L362.43 254.6M365.36 237.3L365.91 254.6M368.85 237.3L369.4 254.6M372.33 237.3L372.88 254.6M375.81 237.3L376.36 254.6M379.29 237.3L379.84 254.6M382.77 237.3L383.32 254.6M386.26 237.3L386.81 254.6M389.74 237.3L390.29 254.6M393.22 237.3L393.77 254.6M396.7 237.3L397.25 254.6M400.18 237.3L400.73 254.6M403.67 237.3L404.22 254.6M407.15 237.3L407.7 254.6M410.63 237.3L411.18 254.6M414.11 237.3L414.66 254.6M417.59 237.3L418.14 254.6M421.08 237.3L421.63 254.6M424.56 237.3L425.11 254.6M428.04 237.3L428.59 254.6" stroke="#f00000" stroke-width="0.35"/>
</g></g>
<line x1="250.5" y1="334" x2="424.6" y2="334" stroke="#5555ff" stroke-width="1.2"/>
<rect x="250.5" y="201.5" width="174.1" height="138.8" fill="none" stroke="#969696" stroke-width="1.0"/>
<path d="M250.5 340.3v-1.8M250.5 201.5v1.8M285.32 340.3v-1.8M285.32 201.5v1.8M320.14 340.3v-1.8M320.14 201.5v1.8M354.96 340.3v-1.8M354.96 201.5v1.8M389.78 340.3v-1.8M389.78 201.5v1.8M424.6 340.3v-1.8M424.6 201.5v1.8M250.5 340.3h1.8M424.6 340.3h-1.8M250.5 294.03h1.8M424.6 294.03h-1.8M250.5 247.77h1.8M424.6 247.77h-1.8M250.5 201.5h1.8M424.6 201.5h-1.8" stroke="#969696" stroke-width="0.8" fill="none"/>
<text x="250.5" y="352.2" text-anchor="middle" font-size="8.4" font-weight="bold">0.25</text>
<text x="285.32" y="352.2" text-anchor="middle" font-size="8.4" font-weight="bold">0.26</text>
<text x="320.14" y="352.2" text-anchor="middle" font-size="8.4" font-weight="bold">0.27</text>
<text x="354.96" y="352.2" text-anchor="middle" font-size="8.4" font-weight="bold">0.28</text>
<text x="389.78" y="352.2" text-anchor="middle" font-size="8.4" font-weight="bold">0.29</text>
<text x="424.6" y="352.2" text-anchor="middle" font-size="8.4" font-weight="bold">0.3</text>
<text x="247.9" y="343.75" text-anchor="end" font-size="8.4" font-weight="bold">49</text>
<text x="247.9" y="297.15" text-anchor="end" font-size="8.4" font-weight="bold">56</text>
<text x="247.9" y="250.55" text-anchor="end" font-size="8.4" font-weight="bold">63</text>
<text x="247.9" y="203.95" text-anchor="end" font-size="8.4" font-weight="bold">70</text>
<text x="337.55" y="363.5" text-anchor="middle" font-size="9.5" font-weight="bold">Time (<tspan font-style="italic">t</tspan>/s)</text>
<text transform="translate(232 270.9) rotate(-90)" text-anchor="middle" font-size="10.1" font-weight="bold">Backlash (<tspan font-style="italic">b</tspan><tspan font-size="6.5" dy="2.2">t</tspan><tspan dy="-2.2" font-size="1">&#8203;</tspan>&#8201;/<tspan font-style="italic">μ</tspan>m)</text>
<text x="222.3" y="193.6" font-size="11.2" class="ns">(d)</text>
<rect x="314.4" y="274.9" width="106.3" height="39.5" fill="#fff" stroke="#7a7a7a" stroke-width="0.9"/>
<line x1="316.5" y1="280.5" x2="331.4" y2="280.5" stroke="#1a1a1a" stroke-width="0.8"/>
<text x="333.5" y="283.3" font-size="7.6" font-weight="bold">previous model with <tspan font-style="italic">μ</tspan>=0</text>
<line x1="316.5" y1="290" x2="331.4" y2="290" stroke="#4646ff" stroke-width="1.6"/>
<text x="333.5" y="292.8" font-size="7.6" font-weight="bold">previous model with <tspan font-style="italic">μ</tspan>=0.2</text>
<line x1="316.5" y1="299.6" x2="331.4" y2="299.6" stroke="#00f000" stroke-width="0.9"/>
<text x="333.5" y="302.4" font-size="7.6" font-weight="bold">new model with <tspan font-style="italic">μ</tspan>=0</text>
<line x1="316.5" y1="309.2" x2="331.4" y2="309.2" stroke="#ff3c3c" stroke-width="1.6"/>
<text x="333.5" y="312" font-size="7.6" font-weight="bold">new model with <tspan font-style="italic">μ</tspan>=0.2</text>
</g>
<g>
<clipPath id="ce"><rect x="33" y="381.5" width="174" height="139.3"/></clipPath>
<g clip-path="url(#ce)">
<path d="M33 501.22L33.44 500.53L33.87 499.59L34.31 498.47L34.74 497.24L35.18 495.96L35.62 494.69L36.05 493.42L36.49 492.14L36.92 490.82L37.36 489.46L37.8 488.03L38.23 486.56L38.67 485.07L39.11 483.59L39.54 482.14L39.98 480.76L40.41 479.47L40.85 478.28L41.29 477.18L41.72 476.19L42.16 475.29L42.59 474.5L43.03 473.82L43.47 473.24L43.9 472.78L44.34 472.43L44.77 472.19L45.21 472.06L45.65 472.04L46.08 472.1L46.52 472.26L46.95 472.52L47.39 472.89L47.83 473.38L48.26 473.97L48.7 474.64L49.14 475.34L49.57 476.05L50.01 476.72L50.44 477.36L50.88 477.95L51.32 478.51L51.75 479.01L52.19 479.48L52.62 479.89L53.06 480.27L53.5 480.6L53.93 480.91L54.37 481.18L54.8 481.42L55.24 481.63L55.68 481.8L56.11 481.92L56.55 481.98L56.98 481.99L57.42 481.95L57.86 481.93L58.29 481.99L58.73 482.19L59.17 482.59L59.6 483.24L60.04 484.23L60.47 485.62L60.91 487.46L61.35 489.67L61.78 492.15L62.22 494.77L62.65 497.45L63.09 500.09L63.53 502.62L63.96 504.96L64.4 507.04L64.83 508.84L65.27 510.35L65.71 511.57L66.14 512.5L66.58 513.13L67.02 513.47L67.45 513.5L67.89 513.22L68.32 512.66L68.76 511.86L69.2 510.86L69.63 509.72L70.07 508.5L70.5 507.27L70.94 506.1L71.38 505.02L71.81 504.03L72.25 503.14L72.68 502.34L73.12 501.65L73.56 501.07L73.99 500.63L74.43 500.36L74.86 500.3L75.3 500.45L75.74 500.8L76.17 501.34L76.61 502.05L77.05 502.91L77.48 503.89L77.92 504.93L78.35 505.99L78.79 507L79.23 507.92L79.66 508.72L80.1 509.42L80.53 510.01L80.97 510.5L81.41 510.9L81.84 511.19L82.28 511.36L82.71 511.39L83.15 511.27L83.59 511.01L84.02 510.64L84.46 510.16L84.89 509.61L85.33 508.98L85.77 508.31L86.2 507.61L86.64 506.88L87.08 506.14L87.51 505.4L87.95 504.69L88.38 504.01L88.82 503.39L89.26 502.85L89.69 502.4L90.13 502.04L90.56 501.69L91 501.22L91.44 500.53L91.87 499.59L92.31 498.47L92.74 497.24L93.18 495.96L93.62 494.69L94.05 493.42L94.49 492.14L94.92 490.82L95.36 489.46L95.8 488.03L96.23 486.56L96.67 485.07L97.11 483.59L97.54 482.14L97.98 480.76L98.41 479.47L98.85 478.28L99.29 477.18L99.72 476.19L100.16 475.29L100.59 474.5L101.03 473.82L101.47 473.24L101.9 472.78L102.34 472.43L102.77 472.19L103.21 472.06L103.65 472.04L104.08 472.1L104.52 472.26L104.95 472.52L105.39 472.89L105.83 473.38L106.26 473.97L106.7 474.64L107.14 475.34L107.57 476.05L108.01 476.72L108.44 477.36L108.88 477.95L109.32 478.51L109.75 479.01L110.19 479.48L110.62 479.89L111.06 480.27L111.5 480.6L111.93 480.91L112.37 481.18L112.8 481.42L113.24 481.63L113.68 481.8L114.11 481.92L114.55 481.98L114.98 481.99L115.42 481.95L115.86 481.93L116.29 481.99L116.73 482.19L117.17 482.59L117.6 483.24L118.04 484.23L118.47 485.62L118.91 487.46L119.35 489.67L119.78 492.15L120.22 494.77L120.65 497.45L121.09 500.09L121.53 502.62L121.96 504.96L122.4 507.04L122.83 508.84L123.27 510.35L123.71 511.57L124.14 512.5L124.58 513.13L125.02 513.47L125.45 513.5L125.89 513.22L126.32 512.66L126.76 511.86L127.2 510.86L127.63 509.72L128.07 508.5L128.5 507.27L128.94 506.1L129.38 505.02L129.81 504.03L130.25 503.14L130.68 502.34L131.12 501.65L131.56 501.07L131.99 500.63L132.43 500.36L132.86 500.3L133.3 500.45L133.74 500.8L134.17 501.34L134.61 502.05L135.05 502.91L135.48 503.89L135.92 504.93L136.35 505.99L136.79 507L137.23 507.92L137.66 508.72L138.1 509.42L138.53 510.01L138.97 510.5L139.41 510.9L139.84 511.19L140.28 511.36L140.71 511.39L141.15 511.27L141.59 511.01L142.02 510.64L142.46 510.16L142.89 509.61L143.33 508.98L143.77 508.31L144.2 507.61L144.64 506.88L145.08 506.14L145.51 505.4L145.95 504.69L146.38 504.01L146.82 503.39L147.26 502.85L147.69 502.4L148.13 502.04L148.56 501.69L149 501.22L149.44 500.53L149.87 499.59L150.31 498.47L150.74 497.24L151.18 495.96L151.62 494.69L152.05 493.42L152.49 492.14L152.92 490.82L153.36 489.46L153.8 488.03L154.23 486.56L154.67 485.07L155.11 483.59L155.54 482.14L155.98 480.76L156.41 479.47L156.85 478.28L157.29 477.18L157.72 476.19L158.16 475.29L158.59 474.5L159.03 473.82L159.47 473.24L159.9 472.78L160.34 472.43L160.77 472.19L161.21 472.06L161.65 472.04L162.08 472.1L162.52 472.26L162.95 472.52L163.39 472.89L163.83 473.38L164.26 473.97L164.7 474.64L165.14 475.34L165.57 476.05L166.01 476.72L166.44 477.36L166.88 477.95L167.32 478.51L167.75 479.01L168.19 479.48L168.62 479.89L169.06 480.27L169.5 480.6L169.93 480.91L170.37 481.18L170.8 481.42L171.24 481.63L171.68 481.8L172.11 481.92L172.55 481.98L172.98 481.99L173.42 481.95L173.86 481.93L174.29 481.99L174.73 482.19L175.17 482.59L175.6 483.24L176.04 484.23L176.47 485.62L176.91 487.46L177.35 489.67L177.78 492.15L178.22 494.77L178.65 497.45L179.09 500.09L179.53 502.62L179.96 504.96L180.4 507.04L180.83 508.84L181.27 510.35L181.71 511.57L182.14 512.5L182.58 513.13L183.02 513.47L183.45 513.5L183.89 513.22L184.32 512.66L184.76 511.86L185.2 510.86L185.63 509.72L186.07 508.5L186.5 507.27L186.94 506.1L187.38 505.02L187.81 504.03L188.25 503.14L188.68 502.34L189.12 501.65L189.56 501.07L189.99 500.63L190.43 500.36L190.86 500.3L191.3 500.45L191.74 500.8L192.17 501.34L192.61 502.05L193.05 502.91L193.48 503.89L193.92 504.93L194.35 505.99L194.79 507L195.23 507.92L195.66 508.72L196.1 509.42L196.53 510.01L196.97 510.5L197.41 510.9L197.84 511.19L198.28 511.36L198.71 511.39L199.15 511.27L199.59 511.01L200.02 510.64L200.46 510.16L200.89 509.61L201.33 508.98L201.77 508.31L202.2 507.61L202.64 506.88L203.08 506.14L203.51 505.4L203.95 504.69L204.38 504.01L204.82 503.39L205.26 502.85L205.69 502.4L206.13 502.04L206.56 501.69L207 501.22" fill="none" stroke="#111111" stroke-width="1.0" stroke-linejoin="round" />
<path d="M33 501.22L33.44 500.53L33.87 499.59L34.31 498.47L34.74 497.24L35.18 495.96L35.62 494.69L36.05 493.42L36.49 492.13L36.92 490.81L37.36 489.45L37.8 488.04L38.23 486.58L38.67 485.1L39.11 483.62L39.54 482.17L39.98 480.76L40.41 479.42L40.85 478.16L41.29 476.97L41.72 475.87L42.16 474.86L42.59 473.95L43.03 473.14L43.47 472.43L43.9 471.82L44.34 471.33L44.77 470.96L45.21 470.71L45.65 470.6L46.08 470.63L46.52 470.81L46.95 471.16L47.39 471.66L47.83 472.34L48.26 473.16L48.7 474.09L49.14 475.07L49.57 476.05L50.01 476.98L50.44 477.88L50.88 478.75L51.32 479.59L51.75 480.43L52.19 481.26L52.62 482.09L53.06 482.88L53.5 483.62L53.93 484.29L54.37 484.86L54.8 485.31L55.24 485.65L55.68 485.9L56.11 486.07L56.55 486.18L56.98 486.24L57.42 486.21L57.86 486.07L58.29 485.78L58.73 485.36L59.17 484.98L59.6 484.97L60.04 485.6L60.47 486.83L60.91 488.49L61.35 490.45L61.78 492.63L62.22 494.99L62.65 497.47L63.09 499.99L63.53 502.42L63.96 504.66L64.4 506.61L64.83 508.26L65.27 509.63L65.71 510.75L66.14 511.63L66.58 512.26L67.02 512.6L67.45 512.64L67.89 512.39L68.32 511.9L68.76 511.2L69.2 510.34L69.63 509.36L70.07 508.31L70.5 507.22L70.94 506.12L71.38 505.07L71.81 504.07L72.25 503.15L72.68 502.34L73.12 501.66L73.56 501.12L73.99 500.73L74.43 500.51L74.86 500.46L75.3 500.6L75.74 500.91L76.17 501.41L76.61 502.07L77.05 502.9L77.48 503.87L77.92 504.92L78.35 505.99L78.79 507L79.23 507.91L79.66 508.69L80.1 509.34L80.53 509.89L80.97 510.33L81.41 510.68L81.84 510.92L82.28 511.05L82.71 511.06L83.15 510.95L83.59 510.72L84.02 510.39L84.46 509.96L84.89 509.44L85.33 508.87L85.77 508.23L86.2 507.56L86.64 506.85L87.08 506.13L87.51 505.41L87.95 504.7L88.38 504.02L88.82 503.4L89.26 502.85L89.69 502.4L90.13 502.04L90.56 501.69L91 501.22L91.44 500.53L91.87 499.59L92.31 498.47L92.74 497.24L93.18 495.96L93.62 494.69L94.05 493.42L94.49 492.13L94.92 490.81L95.36 489.45L95.8 488.04L96.23 486.58L96.67 485.1L97.11 483.62L97.54 482.17L97.98 480.76L98.41 479.42L98.85 478.16L99.29 476.97L99.72 475.87L100.16 474.86L100.59 473.95L101.03 473.14L101.47 472.43L101.9 471.82L102.34 471.33L102.77 470.96L103.21 470.71L103.65 470.6L104.08 470.63L104.52 470.81L104.95 471.16L105.39 471.66L105.83 472.34L106.26 473.16L106.7 474.09L107.14 475.07L107.57 476.05L108.01 476.98L108.44 477.88L108.88 478.75L109.32 479.59L109.75 480.43L110.19 481.26L110.62 482.09L111.06 482.88L111.5 483.62L111.93 484.29L112.37 484.86L112.8 485.31L113.24 485.65L113.68 485.9L114.11 486.07L114.55 486.18L114.98 486.24L115.42 486.21L115.86 486.07L116.29 485.78L116.73 485.36L117.17 484.98L117.6 484.97L118.04 485.6L118.47 486.83L118.91 488.49L119.35 490.45L119.78 492.63L120.22 494.99L120.65 497.47L121.09 499.99L121.53 502.42L121.96 504.66L122.4 506.61L122.83 508.26L123.27 509.63L123.71 510.75L124.14 511.63L124.58 512.26L125.02 512.6L125.45 512.64L125.89 512.39L126.32 511.9L126.76 511.2L127.2 510.34L127.63 509.36L128.07 508.31L128.5 507.22L128.94 506.12L129.38 505.07L129.81 504.07L130.25 503.15L130.68 502.34L131.12 501.66L131.56 501.12L131.99 500.73L132.43 500.51L132.86 500.46L133.3 500.6L133.74 500.91L134.17 501.41L134.61 502.07L135.05 502.9L135.48 503.87L135.92 504.92L136.35 505.99L136.79 507L137.23 507.91L137.66 508.69L138.1 509.34L138.53 509.89L138.97 510.33L139.41 510.68L139.84 510.92L140.28 511.05L140.71 511.06L141.15 510.95L141.59 510.72L142.02 510.39L142.46 509.96L142.89 509.44L143.33 508.87L143.77 508.23L144.2 507.56L144.64 506.85L145.08 506.13L145.51 505.41L145.95 504.7L146.38 504.02L146.82 503.4L147.26 502.85L147.69 502.4L148.13 502.04L148.56 501.69L149 501.22L149.44 500.53L149.87 499.59L150.31 498.47L150.74 497.24L151.18 495.96L151.62 494.69L152.05 493.42L152.49 492.13L152.92 490.81L153.36 489.45L153.8 488.04L154.23 486.58L154.67 485.1L155.11 483.62L155.54 482.17L155.98 480.76L156.41 479.42L156.85 478.16L157.29 476.97L157.72 475.87L158.16 474.86L158.59 473.95L159.03 473.14L159.47 472.43L159.9 471.82L160.34 471.33L160.77 470.96L161.21 470.71L161.65 470.6L162.08 470.63L162.52 470.81L162.95 471.16L163.39 471.66L163.83 472.34L164.26 473.16L164.7 474.09L165.14 475.07L165.57 476.05L166.01 476.98L166.44 477.88L166.88 478.75L167.32 479.59L167.75 480.43L168.19 481.26L168.62 482.09L169.06 482.88L169.5 483.62L169.93 484.29L170.37 484.86L170.8 485.31L171.24 485.65L171.68 485.9L172.11 486.07L172.55 486.18L172.98 486.24L173.42 486.21L173.86 486.07L174.29 485.78L174.73 485.36L175.17 484.98L175.6 484.97L176.04 485.6L176.47 486.83L176.91 488.49L177.35 490.45L177.78 492.63L178.22 494.99L178.65 497.47L179.09 499.99L179.53 502.42L179.96 504.66L180.4 506.61L180.83 508.26L181.27 509.63L181.71 510.75L182.14 511.63L182.58 512.26L183.02 512.6L183.45 512.64L183.89 512.39L184.32 511.9L184.76 511.2L185.2 510.34L185.63 509.36L186.07 508.31L186.5 507.22L186.94 506.12L187.38 505.07L187.81 504.07L188.25 503.15L188.68 502.34L189.12 501.66L189.56 501.12L189.99 500.73L190.43 500.51L190.86 500.46L191.3 500.6L191.74 500.91L192.17 501.41L192.61 502.07L193.05 502.9L193.48 503.87L193.92 504.92L194.35 505.99L194.79 507L195.23 507.91L195.66 508.69L196.1 509.34L196.53 509.89L196.97 510.33L197.41 510.68L197.84 510.92L198.28 511.05L198.71 511.06L199.15 510.95L199.59 510.72L200.02 510.39L200.46 509.96L200.89 509.44L201.33 508.87L201.77 508.23L202.2 507.56L202.64 506.85L203.08 506.13L203.51 505.41L203.95 504.7L204.38 504.02L204.82 503.4L205.26 502.85L205.69 502.4L206.13 502.04L206.56 501.69L207 501.22" fill="none" stroke="#1414ff" stroke-width="1.25" stroke-linejoin="round" />
<path d="M33 439.29L33.44 439.67L33.87 439.63L34.31 439.24L34.74 438.61L35.18 437.8L35.62 436.9L36.05 435.93L36.49 434.89L36.92 433.82L37.36 432.73L37.8 431.63L38.23 430.55L38.67 429.49L39.11 428.47L39.54 427.5L39.98 426.6L40.41 425.79L40.85 425.05L41.29 424.4L41.72 423.82L42.16 423.33L42.59 422.92L43.03 422.61L43.47 422.39L43.9 422.3L44.34 422.35L44.77 422.55L45.21 422.88L45.65 423.32L46.08 423.87L46.52 424.5L46.95 425.19L47.39 425.92L47.83 426.67L48.26 427.43L48.7 428.16L49.14 428.85L49.57 429.49L50.01 430.09L50.44 430.64L50.88 431.16L51.32 431.63L51.75 432.06L52.19 432.44L52.62 432.74L53.06 432.96L53.5 433.08L53.93 433.1L54.37 433L54.8 432.82L55.24 432.56L55.68 432.24L56.11 431.87L56.55 431.45L56.98 431.01L57.42 430.53L57.86 430.04L58.29 429.53L58.73 429.03L59.17 428.68L59.6 428.69L60.04 429.25L60.47 430.34L60.91 431.86L61.35 433.68L61.78 435.69L62.22 437.77L62.65 439.8L63.09 441.69L63.53 443.42L63.96 444.94L64.4 446.23L64.83 447.28L65.27 448.12L65.71 448.77L66.14 449.23L66.58 449.46L67.02 449.44L67.45 449.13L67.89 448.52L68.32 447.59L68.76 446.32L69.2 444.77L69.63 443.02L70.07 441.15L70.5 439.26L70.94 437.44L71.38 435.73L71.81 434.21L72.25 432.93L72.68 431.93L73.12 431.24L73.56 430.83L73.99 430.68L74.43 430.78L74.86 431.1L75.3 431.61L75.74 432.28L76.17 433.09L76.61 433.99L77.05 434.95L77.48 435.9L77.92 436.82L78.35 437.67L78.79 438.45L79.23 439.14L79.66 439.72L80.1 440.2L80.53 440.57L80.97 440.81L81.41 440.94L81.84 440.95L82.28 440.84L82.71 440.64L83.15 440.35L83.59 439.99L84.02 439.58L84.46 439.14L84.89 438.68L85.33 438.22L85.77 437.78L86.2 437.36L86.64 437L87.08 436.69L87.51 436.46L87.95 436.33L88.38 436.3L88.82 436.4L89.26 436.66L89.69 437.1L90.13 437.75L90.56 438.56L91 439.29L91.44 439.67L91.87 439.63L92.31 439.24L92.74 438.61L93.18 437.8L93.62 436.9L94.05 435.93L94.49 434.89L94.92 433.82L95.36 432.73L95.8 431.63L96.23 430.55L96.67 429.49L97.11 428.47L97.54 427.5L97.98 426.6L98.41 425.79L98.85 425.05L99.29 424.4L99.72 423.82L100.16 423.33L100.59 422.92L101.03 422.61L101.47 422.39L101.9 422.3L102.34 422.35L102.77 422.55L103.21 422.88L103.65 423.32L104.08 423.87L104.52 424.5L104.95 425.19L105.39 425.92L105.83 426.67L106.26 427.43L106.7 428.16L107.14 428.85L107.57 429.49L108.01 430.09L108.44 430.64L108.88 431.16L109.32 431.63L109.75 432.06L110.19 432.44L110.62 432.74L111.06 432.96L111.5 433.08L111.93 433.1L112.37 433L112.8 432.82L113.24 432.56L113.68 432.24L114.11 431.87L114.55 431.45L114.98 431.01L115.42 430.53L115.86 430.04L116.29 429.53L116.73 429.03L117.17 428.68L117.6 428.69L118.04 429.25L118.47 430.34L118.91 431.86L119.35 433.68L119.78 435.69L120.22 437.77L120.65 439.8L121.09 441.69L121.53 443.42L121.96 444.94L122.4 446.23L122.83 447.28L123.27 448.12L123.71 448.77L124.14 449.23L124.58 449.46L125.02 449.44L125.45 449.13L125.89 448.52L126.32 447.59L126.76 446.32L127.2 444.77L127.63 443.02L128.07 441.15L128.5 439.26L128.94 437.44L129.38 435.73L129.81 434.21L130.25 432.93L130.68 431.93L131.12 431.24L131.56 430.83L131.99 430.68L132.43 430.78L132.86 431.1L133.3 431.61L133.74 432.28L134.17 433.09L134.61 433.99L135.05 434.95L135.48 435.9L135.92 436.82L136.35 437.67L136.79 438.45L137.23 439.14L137.66 439.72L138.1 440.2L138.53 440.57L138.97 440.81L139.41 440.94L139.84 440.95L140.28 440.84L140.71 440.64L141.15 440.35L141.59 439.99L142.02 439.58L142.46 439.14L142.89 438.68L143.33 438.22L143.77 437.78L144.2 437.36L144.64 437L145.08 436.69L145.51 436.46L145.95 436.33L146.38 436.3L146.82 436.4L147.26 436.66L147.69 437.1L148.13 437.75L148.56 438.56L149 439.29L149.44 439.67L149.87 439.63L150.31 439.24L150.74 438.61L151.18 437.8L151.62 436.9L152.05 435.93L152.49 434.89L152.92 433.82L153.36 432.73L153.8 431.63L154.23 430.55L154.67 429.49L155.11 428.47L155.54 427.5L155.98 426.6L156.41 425.79L156.85 425.05L157.29 424.4L157.72 423.82L158.16 423.33L158.59 422.92L159.03 422.61L159.47 422.39L159.9 422.3L160.34 422.35L160.77 422.55L161.21 422.88L161.65 423.32L162.08 423.87L162.52 424.5L162.95 425.19L163.39 425.92L163.83 426.67L164.26 427.43L164.7 428.16L165.14 428.85L165.57 429.49L166.01 430.09L166.44 430.64L166.88 431.16L167.32 431.63L167.75 432.06L168.19 432.44L168.62 432.74L169.06 432.96L169.5 433.08L169.93 433.1L170.37 433L170.8 432.82L171.24 432.56L171.68 432.24L172.11 431.87L172.55 431.45L172.98 431.01L173.42 430.53L173.86 430.04L174.29 429.53L174.73 429.03L175.17 428.68L175.6 428.69L176.04 429.25L176.47 430.34L176.91 431.86L177.35 433.68L177.78 435.69L178.22 437.77L178.65 439.8L179.09 441.69L179.53 443.42L179.96 444.94L180.4 446.23L180.83 447.28L181.27 448.12L181.71 448.77L182.14 449.23L182.58 449.46L183.02 449.44L183.45 449.13L183.89 448.52L184.32 447.59L184.76 446.32L185.2 444.77L185.63 443.02L186.07 441.15L186.5 439.26L186.94 437.44L187.38 435.73L187.81 434.21L188.25 432.93L188.68 431.93L189.12 431.24L189.56 430.83L189.99 430.68L190.43 430.78L190.86 431.1L191.3 431.61L191.74 432.28L192.17 433.09L192.61 433.99L193.05 434.95L193.48 435.9L193.92 436.82L194.35 437.67L194.79 438.45L195.23 439.14L195.66 439.72L196.1 440.2L196.53 440.57L196.97 440.81L197.41 440.94L197.84 440.95L198.28 440.84L198.71 440.64L199.15 440.35L199.59 439.99L200.02 439.58L200.46 439.14L200.89 438.68L201.33 438.22L201.77 437.78L202.2 437.36L202.64 437L203.08 436.69L203.51 436.46L203.95 436.33L204.38 436.3L204.82 436.4L205.26 436.66L205.69 437.1L206.13 437.75L206.56 438.56L207 439.29" fill="none" stroke="#00ee00" stroke-width="1.2" stroke-linejoin="round" />
<path d="M33 446.2L33.44 446.61L33.87 446.75L34.31 446.66L34.74 446.35L35.18 445.87L35.62 445.23L36.05 444.47L36.49 443.59L36.92 442.61L37.36 441.56L37.8 440.45L38.23 439.29L38.67 438.11L39.11 436.93L39.54 435.75L39.98 434.61L40.41 433.51L40.85 432.45L41.29 431.43L41.72 430.44L42.16 429.49L42.59 428.57L43.03 427.7L43.47 426.88L43.9 426.15L44.34 425.52L44.77 425L45.21 424.62L45.65 424.37L46.08 424.26L46.52 424.29L46.95 424.43L47.39 424.66L47.83 424.96L48.26 425.3L48.7 425.67L49.14 426.05L49.57 426.45L50.01 426.83L50.44 427.21L50.88 427.56L51.32 427.87L51.75 428.13L52.19 428.32L52.62 428.42L53.06 428.43L53.5 428.34L53.93 428.15L54.37 427.88L54.8 427.53L55.24 427.11L55.68 426.62L56.11 426.08L56.55 425.49L56.98 424.87L57.42 424.22L57.86 423.55L58.29 422.91L58.73 422.37L59.17 421.99L59.6 421.85L60.04 422.03L60.47 422.64L60.91 423.76L61.35 425.43L61.78 427.47L62.22 429.67L62.65 431.85L63.09 433.91L63.53 435.85L63.96 437.67L64.4 439.36L64.83 440.9L65.27 442.26L65.71 443.39L66.14 444.26L66.58 444.85L67.02 445.12L67.45 445.06L67.89 444.66L68.32 443.95L68.76 442.94L69.2 441.68L69.63 440.23L70.07 438.7L70.5 437.18L70.94 435.76L71.38 434.5L71.81 433.4L72.25 432.48L72.68 431.73L73.12 431.17L73.56 430.81L73.99 430.68L74.43 430.78L74.86 431.12L75.3 431.67L75.74 432.42L76.17 433.34L76.61 434.41L77.05 435.58L77.48 436.81L77.92 438.06L78.35 439.27L78.79 440.41L79.23 441.47L79.66 442.42L80.1 443.24L80.53 443.93L80.97 444.49L81.41 444.91L81.84 445.22L82.28 445.4L82.71 445.49L83.15 445.47L83.59 445.38L84.02 445.23L84.46 445.03L84.89 444.81L85.33 444.59L85.77 444.36L86.2 444.12L86.64 443.89L87.08 443.65L87.51 443.42L87.95 443.23L88.38 443.17L88.82 443.32L89.26 443.69L89.69 444.22L90.13 444.87L90.56 445.57L91 446.2L91.44 446.61L91.87 446.75L92.31 446.66L92.74 446.35L93.18 445.87L93.62 445.23L94.05 444.47L94.49 443.59L94.92 442.61L95.36 441.56L95.8 440.45L96.23 439.29L96.67 438.11L97.11 436.93L97.54 435.75L97.98 434.61L98.41 433.51L98.85 432.45L99.29 431.43L99.72 430.44L100.16 429.49L100.59 428.57L101.03 427.7L101.47 426.88L101.9 426.15L102.34 425.52L102.77 425L103.21 424.62L103.65 424.37L104.08 424.26L104.52 424.29L104.95 424.43L105.39 424.66L105.83 424.96L106.26 425.3L106.7 425.67L107.14 426.05L107.57 426.45L108.01 426.83L108.44 427.21L108.88 427.56L109.32 427.87L109.75 428.13L110.19 428.32L110.62 428.42L111.06 428.43L111.5 428.34L111.93 428.15L112.37 427.88L112.8 427.53L113.24 427.11L113.68 426.62L114.11 426.08L114.55 425.49L114.98 424.87L115.42 424.22L115.86 423.55L116.29 422.91L116.73 422.37L117.17 421.99L117.6 421.85L118.04 422.03L118.47 422.64L118.91 423.76L119.35 425.43L119.78 427.47L120.22 429.67L120.65 431.85L121.09 433.91L121.53 435.85L121.96 437.67L122.4 439.36L122.83 440.9L123.27 442.26L123.71 443.39L124.14 444.26L124.58 444.85L125.02 445.12L125.45 445.06L125.89 444.66L126.32 443.95L126.76 442.94L127.2 441.68L127.63 440.23L128.07 438.7L128.5 437.18L128.94 435.76L129.38 434.5L129.81 433.4L130.25 432.48L130.68 431.73L131.12 431.17L131.56 430.81L131.99 430.68L132.43 430.78L132.86 431.12L133.3 431.67L133.74 432.42L134.17 433.34L134.61 434.41L135.05 435.58L135.48 436.81L135.92 438.06L136.35 439.27L136.79 440.41L137.23 441.47L137.66 442.42L138.1 443.24L138.53 443.93L138.97 444.49L139.41 444.91L139.84 445.22L140.28 445.4L140.71 445.49L141.15 445.47L141.59 445.38L142.02 445.23L142.46 445.03L142.89 444.81L143.33 444.59L143.77 444.36L144.2 444.12L144.64 443.89L145.08 443.65L145.51 443.42L145.95 443.23L146.38 443.17L146.82 443.32L147.26 443.69L147.69 444.22L148.13 444.87L148.56 445.57L149 446.2L149.44 446.61L149.87 446.75L150.31 446.66L150.74 446.35L151.18 445.87L151.62 445.23L152.05 444.47L152.49 443.59L152.92 442.61L153.36 441.56L153.8 440.45L154.23 439.29L154.67 438.11L155.11 436.93L155.54 435.75L155.98 434.61L156.41 433.51L156.85 432.45L157.29 431.43L157.72 430.44L158.16 429.49L158.59 428.57L159.03 427.7L159.47 426.88L159.9 426.15L160.34 425.52L160.77 425L161.21 424.62L161.65 424.37L162.08 424.26L162.52 424.29L162.95 424.43L163.39 424.66L163.83 424.96L164.26 425.3L164.7 425.67L165.14 426.05L165.57 426.45L166.01 426.83L166.44 427.21L166.88 427.56L167.32 427.87L167.75 428.13L168.19 428.32L168.62 428.42L169.06 428.43L169.5 428.34L169.93 428.15L170.37 427.88L170.8 427.53L171.24 427.11L171.68 426.62L172.11 426.08L172.55 425.49L172.98 424.87L173.42 424.22L173.86 423.55L174.29 422.91L174.73 422.37L175.17 421.99L175.6 421.85L176.04 422.03L176.47 422.64L176.91 423.76L177.35 425.43L177.78 427.47L178.22 429.67L178.65 431.85L179.09 433.91L179.53 435.85L179.96 437.67L180.4 439.36L180.83 440.9L181.27 442.26L181.71 443.39L182.14 444.26L182.58 444.85L183.02 445.12L183.45 445.06L183.89 444.66L184.32 443.95L184.76 442.94L185.2 441.68L185.63 440.23L186.07 438.7L186.5 437.18L186.94 435.76L187.38 434.5L187.81 433.4L188.25 432.48L188.68 431.73L189.12 431.17L189.56 430.81L189.99 430.68L190.43 430.78L190.86 431.12L191.3 431.67L191.74 432.42L192.17 433.34L192.61 434.41L193.05 435.58L193.48 436.81L193.92 438.06L194.35 439.27L194.79 440.41L195.23 441.47L195.66 442.42L196.1 443.24L196.53 443.93L196.97 444.49L197.41 444.91L197.84 445.22L198.28 445.4L198.71 445.49L199.15 445.47L199.59 445.38L200.02 445.23L200.46 445.03L200.89 444.81L201.33 444.59L201.77 444.36L202.2 444.12L202.64 443.89L203.08 443.65L203.51 443.42L203.95 443.23L204.38 443.17L204.82 443.32L205.26 443.69L205.69 444.22L206.13 444.87L206.56 445.57L207 446.2" fill="none" stroke="#ff1a1a" stroke-width="1.2" stroke-linejoin="round" />
</g>
<rect x="33" y="381.5" width="174" height="139.3" fill="none" stroke="#969696" stroke-width="1.0"/>
<path d="M33 520.8v-1.8M33 381.5v1.8M91 520.8v-1.8M91 381.5v1.8M149 520.8v-1.8M149 381.5v1.8M207 520.8v-1.8M207 381.5v1.8M33 520.8h1.8M207 520.8h-1.8M33 500.9h1.8M207 500.9h-1.8M33 481h1.8M207 481h-1.8M33 461.1h1.8M207 461.1h-1.8M33 441.2h1.8M207 441.2h-1.8M33 421.3h1.8M207 421.3h-1.8M33 401.4h1.8M207 401.4h-1.8M33 381.5h1.8M207 381.5h-1.8" stroke="#969696" stroke-width="0.8" fill="none"/>
<text x="33" y="532.7" text-anchor="middle" font-size="8.4" font-weight="bold">0.297</text>
<text x="91" y="532.7" text-anchor="middle" font-size="8.4" font-weight="bold">0.298</text>
<text x="149" y="532.7" text-anchor="middle" font-size="8.4" font-weight="bold">0.299</text>
<text x="207" y="532.7" text-anchor="middle" font-size="8.4" font-weight="bold">0.3</text>
<text x="30.5" y="524.25" text-anchor="end" font-size="8.4" font-weight="bold">50</text>
<text x="30.5" y="504.21" text-anchor="end" font-size="8.4" font-weight="bold">55</text>
<text x="30.5" y="484.16" text-anchor="end" font-size="8.4" font-weight="bold">60</text>
<text x="30.5" y="464.12" text-anchor="end" font-size="8.4" font-weight="bold">65</text>
<text x="30.5" y="444.08" text-anchor="end" font-size="8.4" font-weight="bold">70</text>
<text x="30.5" y="424.04" text-anchor="end" font-size="8.4" font-weight="bold">75</text>
<text x="30.5" y="403.99" text-anchor="end" font-size="8.4" font-weight="bold">80</text>
<text x="30.5" y="383.95" text-anchor="end" font-size="8.4" font-weight="bold">85</text>
<text x="120" y="544" text-anchor="middle" font-size="9.5" font-weight="bold">Time (<tspan font-style="italic">t</tspan>/s)</text>
<text transform="translate(17.6 451.15) rotate(-90)" text-anchor="middle" font-size="10.1" font-weight="bold">DTE (&#8201;<tspan font-style="italic">δ</tspan>/<tspan font-style="italic">μ</tspan>m)</text>
<text x="7.6" y="373.4" font-size="11.2" class="ns">(e)</text>
<rect x="99.5" y="381.9" width="107.1" height="39.2" fill="#fff" stroke="#7a7a7a" stroke-width="0.9"/>
<line x1="101.6" y1="387.6" x2="117" y2="387.6" stroke="#1a1a1a" stroke-width="0.9"/>
<text x="119.1" y="390.4" font-size="7.6" font-weight="bold">previous model with <tspan font-style="italic">μ</tspan>=0</text>
<line x1="101.6" y1="397.3" x2="117" y2="397.3" stroke="#4646ff" stroke-width="1.0"/>
<text x="119.1" y="400.1" font-size="7.6" font-weight="bold">previous model with <tspan font-style="italic">μ</tspan>=0.2</text>
<line x1="101.6" y1="406.7" x2="117" y2="406.7" stroke="#00f000" stroke-width="1.0"/>
<text x="119.1" y="409.5" font-size="7.6" font-weight="bold">new model with <tspan font-style="italic">μ</tspan>=0</text>
<line x1="101.6" y1="416.3" x2="117" y2="416.3" stroke="#ff3c3c" stroke-width="1.0"/>
<text x="119.1" y="419.1" font-size="7.6" font-weight="bold">new model with <tspan font-style="italic">μ</tspan>=0.2</text>
<text x="102.3" y="465.2" font-size="8.4" class="cy">pitch point impact</text>
<path d="M123 467.3L113.5 475.8" stroke="#12b0f0" stroke-width="1" fill="none"/>
<path d="M111.2 478L113 472.6L117 476.6Z" fill="#12b0f0"/>
</g>
<g>
<clipPath id="cf"><rect x="250.6" y="381.5" width="174.1" height="139.5"/></clipPath>
<g clip-path="url(#cf)">
<path d="M250.6 482.36L251.04 481.75L251.47 480.7L251.91 479.26L252.35 477.48L252.78 475.44L253.22 473.18L253.65 470.74L254.09 468.16L254.53 465.44L254.96 462.64L255.4 459.76L255.84 456.83L256.27 453.86L256.71 450.87L257.15 447.89L257.58 444.97L258.02 442.16L258.45 439.51L258.89 437.08L259.33 434.89L259.76 432.95L260.2 431.28L260.64 429.89L261.07 428.78L261.51 427.92L261.94 427.27L262.38 426.82L262.82 426.55L263.25 426.48L263.69 426.61L264.13 426.95L264.56 427.53L265 428.39L265.44 429.49L265.87 430.76L266.31 432.09L266.74 433.39L267.18 434.6L267.62 435.73L268.05 436.78L268.49 437.79L268.93 438.76L269.36 439.71L269.8 440.6L270.24 441.41L270.67 442.13L271.11 442.74L271.54 443.26L271.98 443.7L272.42 444.08L272.85 444.43L273.29 444.75L273.73 445.03L274.16 445.28L274.6 445.49L275.04 445.64L275.47 445.73L275.91 445.75L276.34 445.8L276.78 446.03L277.22 446.64L277.65 447.9L278.09 450.27L278.53 454.09L278.96 459.01L279.4 464.41L279.83 469.67L280.27 474.68L280.71 479.52L281.14 484.31L281.58 488.94L282.02 493.22L282.45 496.94L282.89 499.99L283.33 502.36L283.76 504.11L284.2 505.26L284.63 505.8L285.07 505.7L285.51 504.99L285.94 503.73L286.38 502L286.82 499.86L287.25 497.44L287.69 494.91L288.13 492.4L288.56 490.05L289 487.93L289.43 486.03L289.87 484.38L290.31 482.97L290.74 481.84L291.18 481.05L291.62 480.67L292.05 480.78L292.49 481.35L292.93 482.36L293.36 483.73L293.8 485.43L294.23 487.33L294.67 489.33L295.11 491.33L295.54 493.24L295.98 495L296.42 496.59L296.85 498L297.29 499.18L297.72 500.16L298.16 500.95L298.6 501.58L299.03 502.09L299.47 502.48L299.91 502.69L300.34 502.66L300.78 502.34L301.22 501.71L301.65 500.82L302.09 499.69L302.52 498.35L302.96 496.86L303.4 495.25L303.83 493.57L304.27 491.87L304.71 490.18L305.14 488.58L305.58 487.11L306.02 485.82L306.45 484.76L306.89 483.93L307.32 483.33L307.76 482.92L308.2 482.67L308.63 482.36L309.07 481.75L309.51 480.7L309.94 479.26L310.38 477.48L310.82 475.44L311.25 473.18L311.69 470.74L312.12 468.16L312.56 465.44L313 462.64L313.43 459.76L313.87 456.83L314.31 453.86L314.74 450.87L315.18 447.89L315.61 444.97L316.05 442.16L316.49 439.51L316.92 437.08L317.36 434.89L317.8 432.95L318.23 431.28L318.67 429.89L319.11 428.78L319.54 427.92L319.98 427.27L320.41 426.82L320.85 426.55L321.29 426.48L321.72 426.61L322.16 426.95L322.6 427.53L323.03 428.39L323.47 429.49L323.91 430.76L324.34 432.09L324.78 433.39L325.21 434.6L325.65 435.73L326.09 436.78L326.52 437.79L326.96 438.76L327.4 439.71L327.83 440.6L328.27 441.41L328.71 442.13L329.14 442.74L329.58 443.26L330.01 443.7L330.45 444.08L330.89 444.43L331.32 444.75L331.76 445.03L332.2 445.28L332.63 445.49L333.07 445.64L333.5 445.73L333.94 445.75L334.38 445.8L334.81 446.03L335.25 446.64L335.69 447.9L336.12 450.27L336.56 454.09L337 459.01L337.43 464.41L337.87 469.67L338.3 474.68L338.74 479.52L339.18 484.31L339.61 488.94L340.05 493.22L340.49 496.94L340.92 499.99L341.36 502.36L341.8 504.11L342.23 505.26L342.67 505.8L343.1 505.7L343.54 504.99L343.98 503.73L344.41 502L344.85 499.86L345.29 497.44L345.72 494.91L346.16 492.4L346.59 490.05L347.03 487.93L347.47 486.03L347.9 484.38L348.34 482.97L348.78 481.84L349.21 481.05L349.65 480.67L350.09 480.78L350.52 481.35L350.96 482.36L351.39 483.73L351.83 485.43L352.27 487.33L352.7 489.33L353.14 491.33L353.58 493.24L354.01 495L354.45 496.59L354.89 498L355.32 499.18L355.76 500.16L356.19 500.95L356.63 501.58L357.07 502.09L357.5 502.48L357.94 502.69L358.38 502.66L358.81 502.34L359.25 501.71L359.69 500.82L360.12 499.69L360.56 498.35L360.99 496.86L361.43 495.25L361.87 493.57L362.3 491.87L362.74 490.18L363.18 488.58L363.61 487.11L364.05 485.82L364.48 484.76L364.92 483.93L365.36 483.33L365.79 482.92L366.23 482.67L366.67 482.36L367.1 481.75L367.54 480.7L367.98 479.26L368.41 477.48L368.85 475.44L369.28 473.18L369.72 470.74L370.16 468.16L370.59 465.44L371.03 462.64L371.47 459.76L371.9 456.83L372.34 453.86L372.78 450.87L373.21 447.89L373.65 444.97L374.08 442.16L374.52 439.51L374.96 437.08L375.39 434.89L375.83 432.95L376.27 431.28L376.7 429.89L377.14 428.78L377.58 427.92L378.01 427.27L378.45 426.82L378.88 426.55L379.32 426.48L379.76 426.61L380.19 426.95L380.63 427.53L381.07 428.39L381.5 429.49L381.94 430.76L382.37 432.09L382.81 433.39L383.25 434.6L383.68 435.73L384.12 436.78L384.56 437.79L384.99 438.76L385.43 439.71L385.87 440.6L386.3 441.41L386.74 442.13L387.17 442.74L387.61 443.26L388.05 443.7L388.48 444.08L388.92 444.43L389.36 444.75L389.79 445.03L390.23 445.28L390.67 445.49L391.1 445.64L391.54 445.73L391.97 445.75L392.41 445.8L392.85 446.03L393.28 446.64L393.72 447.9L394.16 450.27L394.59 454.09L395.03 459.01L395.47 464.41L395.9 469.67L396.34 474.68L396.77 479.52L397.21 484.31L397.65 488.94L398.08 493.22L398.52 496.94L398.96 499.99L399.39 502.36L399.83 504.11L400.26 505.26L400.7 505.8L401.14 505.7L401.57 504.99L402.01 503.73L402.45 502L402.88 499.86L403.32 497.44L403.76 494.91L404.19 492.4L404.63 490.05L405.06 487.93L405.5 486.03L405.94 484.38L406.37 482.97L406.81 481.84L407.25 481.05L407.68 480.67L408.12 480.78L408.56 481.35L408.99 482.36L409.43 483.73L409.86 485.43L410.3 487.33L410.74 489.33L411.17 491.33L411.61 493.24L412.05 495L412.48 496.59L412.92 498L413.36 499.18L413.79 500.16L414.23 500.95L414.66 501.58L415.1 502.09L415.54 502.48L415.97 502.69L416.41 502.66L416.85 502.34L417.28 501.71L417.72 500.82L418.15 499.69L418.59 498.35L419.03 496.86L419.46 495.25L419.9 493.57L420.34 491.87L420.77 490.18L421.21 488.58L421.65 487.11L422.08 485.82L422.52 484.76L422.95 483.93L423.39 483.33L423.83 482.92L424.26 482.67L424.7 482.36" fill="none" stroke="#111111" stroke-width="1.2" stroke-linejoin="round" />
<path d="M250.6 482.18L251.04 481.18L251.47 479.61L251.91 477.58L252.35 475.23L252.78 472.67L253.22 469.96L253.65 467.13L254.09 464.22L254.53 461.25L254.96 458.23L255.4 455.17L255.84 452.06L256.27 448.9L256.71 445.73L257.15 442.61L257.58 439.61L258.02 436.79L258.45 434.19L258.89 431.86L259.33 429.79L259.76 428L260.2 426.51L260.64 425.3L261.07 424.32L261.51 423.55L261.94 422.94L262.38 422.51L262.82 422.3L263.25 422.33L263.69 422.62L264.13 423.2L264.56 424.09L265 425.3L265.44 426.81L265.87 428.56L266.31 430.46L266.74 432.46L267.18 434.48L267.62 436.49L268.05 438.46L268.49 440.36L268.93 442.15L269.36 443.83L269.8 445.37L270.24 446.76L270.67 448L271.11 449.07L271.54 449.98L271.98 450.76L272.42 451.42L272.85 451.97L273.29 452.39L273.73 452.67L274.16 452.8L274.6 452.76L275.04 452.58L275.47 452.34L275.91 452.11L276.34 451.98L276.78 452.12L277.22 452.8L277.65 454.25L278.09 456.62L278.53 459.95L278.96 464.01L279.4 468.45L279.83 472.91L280.27 477.29L280.71 481.6L281.14 485.83L281.58 489.9L282.02 493.62L282.45 496.86L282.89 499.5L283.33 501.57L283.76 503.14L284.2 504.24L284.63 504.82L285.07 504.86L285.51 504.33L285.94 503.29L286.38 501.81L286.82 499.97L287.25 497.86L287.69 495.6L288.13 493.31L288.56 491.09L289 489.04L289.43 487.19L289.87 485.54L290.31 484.11L290.74 482.93L291.18 482.05L291.62 481.53L292.05 481.43L292.49 481.78L292.93 482.55L293.36 483.68L293.8 485.13L294.23 486.82L294.67 488.66L295.11 490.54L295.54 492.36L295.98 494.07L296.42 495.64L296.85 497.06L297.29 498.31L297.72 499.37L298.16 500.25L298.6 500.96L299.03 501.51L299.47 501.9L299.91 502.12L300.34 502.14L300.78 501.95L301.22 501.52L301.65 500.85L302.09 499.94L302.52 498.8L302.96 497.44L303.4 495.92L303.83 494.29L304.27 492.61L304.71 490.93L305.14 489.3L305.58 487.77L306.02 486.37L306.45 485.16L306.89 484.17L307.32 483.41L307.76 482.92L308.2 482.63L308.63 482.18L309.07 481.18L309.51 479.61L309.94 477.58L310.38 475.23L310.82 472.67L311.25 469.96L311.69 467.13L312.12 464.22L312.56 461.25L313 458.23L313.43 455.17L313.87 452.06L314.31 448.9L314.74 445.73L315.18 442.61L315.61 439.61L316.05 436.79L316.49 434.19L316.92 431.86L317.36 429.79L317.8 428L318.23 426.51L318.67 425.3L319.11 424.32L319.54 423.55L319.98 422.94L320.41 422.51L320.85 422.3L321.29 422.33L321.72 422.62L322.16 423.2L322.6 424.09L323.03 425.3L323.47 426.81L323.91 428.56L324.34 430.46L324.78 432.46L325.21 434.48L325.65 436.49L326.09 438.46L326.52 440.36L326.96 442.15L327.4 443.83L327.83 445.37L328.27 446.76L328.71 448L329.14 449.07L329.58 449.98L330.01 450.76L330.45 451.42L330.89 451.97L331.32 452.39L331.76 452.67L332.2 452.8L332.63 452.76L333.07 452.58L333.5 452.34L333.94 452.11L334.38 451.98L334.81 452.12L335.25 452.8L335.69 454.25L336.12 456.62L336.56 459.95L337 464.01L337.43 468.45L337.87 472.91L338.3 477.29L338.74 481.6L339.18 485.83L339.61 489.9L340.05 493.62L340.49 496.86L340.92 499.5L341.36 501.57L341.8 503.14L342.23 504.24L342.67 504.82L343.1 504.86L343.54 504.33L343.98 503.29L344.41 501.81L344.85 499.97L345.29 497.86L345.72 495.6L346.16 493.31L346.59 491.09L347.03 489.04L347.47 487.19L347.9 485.54L348.34 484.11L348.78 482.93L349.21 482.05L349.65 481.53L350.09 481.43L350.52 481.78L350.96 482.55L351.39 483.68L351.83 485.13L352.27 486.82L352.7 488.66L353.14 490.54L353.58 492.36L354.01 494.07L354.45 495.64L354.89 497.06L355.32 498.31L355.76 499.37L356.19 500.25L356.63 500.96L357.07 501.51L357.5 501.9L357.94 502.12L358.38 502.14L358.81 501.95L359.25 501.52L359.69 500.85L360.12 499.94L360.56 498.8L360.99 497.44L361.43 495.92L361.87 494.29L362.3 492.61L362.74 490.93L363.18 489.3L363.61 487.77L364.05 486.37L364.48 485.16L364.92 484.17L365.36 483.41L365.79 482.92L366.23 482.63L366.67 482.18L367.1 481.18L367.54 479.61L367.98 477.58L368.41 475.23L368.85 472.67L369.28 469.96L369.72 467.13L370.16 464.22L370.59 461.25L371.03 458.23L371.47 455.17L371.9 452.06L372.34 448.9L372.78 445.73L373.21 442.61L373.65 439.61L374.08 436.79L374.52 434.19L374.96 431.86L375.39 429.79L375.83 428L376.27 426.51L376.7 425.3L377.14 424.32L377.58 423.55L378.01 422.94L378.45 422.51L378.88 422.3L379.32 422.33L379.76 422.62L380.19 423.2L380.63 424.09L381.07 425.3L381.5 426.81L381.94 428.56L382.37 430.46L382.81 432.46L383.25 434.48L383.68 436.49L384.12 438.46L384.56 440.36L384.99 442.15L385.43 443.83L385.87 445.37L386.3 446.76L386.74 448L387.17 449.07L387.61 449.98L388.05 450.76L388.48 451.42L388.92 451.97L389.36 452.39L389.79 452.67L390.23 452.8L390.67 452.76L391.1 452.58L391.54 452.34L391.97 452.11L392.41 451.98L392.85 452.12L393.28 452.8L393.72 454.25L394.16 456.62L394.59 459.95L395.03 464.01L395.47 468.45L395.9 472.91L396.34 477.29L396.77 481.6L397.21 485.83L397.65 489.9L398.08 493.62L398.52 496.86L398.96 499.5L399.39 501.57L399.83 503.14L400.26 504.24L400.7 504.82L401.14 504.86L401.57 504.33L402.01 503.29L402.45 501.81L402.88 499.97L403.32 497.86L403.76 495.6L404.19 493.31L404.63 491.09L405.06 489.04L405.5 487.19L405.94 485.54L406.37 484.11L406.81 482.93L407.25 482.05L407.68 481.53L408.12 481.43L408.56 481.78L408.99 482.55L409.43 483.68L409.86 485.13L410.3 486.82L410.74 488.66L411.17 490.54L411.61 492.36L412.05 494.07L412.48 495.64L412.92 497.06L413.36 498.31L413.79 499.37L414.23 500.25L414.66 500.96L415.1 501.51L415.54 501.9L415.97 502.12L416.41 502.14L416.85 501.95L417.28 501.52L417.72 500.85L418.15 499.94L418.59 498.8L419.03 497.44L419.46 495.92L419.9 494.29L420.34 492.61L420.77 490.93L421.21 489.3L421.65 487.77L422.08 486.37L422.52 485.16L422.95 484.17L423.39 483.41L423.83 482.92L424.26 482.63L424.7 482.18" fill="none" stroke="#1414ff" stroke-width="1.2" stroke-linejoin="round" />
<path d="M250.6 482.34L251.04 481.76L251.47 480.72L251.91 479.27L252.35 477.49L252.78 475.44L253.22 473.18L253.65 470.74L254.09 468.15L254.53 465.44L254.96 462.64L255.4 459.77L255.84 456.83L256.27 453.86L256.71 450.87L257.15 447.89L257.58 444.97L258.02 442.16L258.45 439.51L258.89 437.08L259.33 434.88L259.76 432.95L260.2 431.28L260.64 429.89L261.07 428.79L261.51 427.92L261.94 427.27L262.38 426.8L262.82 426.53L263.25 426.48L263.69 426.65L264.13 427.09L264.56 427.81L265 428.85L265.44 430.18L265.87 431.7L266.31 433.32L266.74 434.93L267.18 436.46L267.62 437.9L268.05 439.26L268.49 440.55L268.93 441.79L269.36 442.97L269.8 444.08L270.24 445.09L270.67 446L271.11 446.79L271.54 447.44L271.98 447.92L272.42 448.21L272.85 448.31L273.29 448.22L273.73 447.99L274.16 447.65L274.6 447.23L275.04 446.78L275.47 446.34L275.91 445.98L276.34 445.77L276.78 445.78L277.22 446.26L277.65 447.79L278.09 450.94L278.53 455.5L278.96 460.82L279.4 466.29L279.83 471.63L280.27 476.86L280.71 481.98L281.14 486.93L281.58 491.51L282.02 495.58L282.45 498.98L282.89 501.75L283.33 503.93L283.76 505.53L284.2 506.51L284.63 506.79L285.07 506.32L285.51 505.19L285.94 503.51L286.38 501.42L286.82 499.02L287.25 496.46L287.69 493.86L288.13 491.34L288.56 489.01L289 486.9L289.43 485.02L289.87 483.38L290.31 481.99L290.74 480.92L291.18 480.26L291.62 480.09L292.05 480.46L292.49 481.3L292.93 482.53L293.36 484.05L293.8 485.81L294.23 487.7L294.67 489.66L295.11 491.61L295.54 493.47L295.98 495.22L296.42 496.79L296.85 498.16L297.29 499.29L297.72 500.19L298.16 500.9L298.6 501.45L299.03 501.87L299.47 502.13L299.91 502.19L300.34 501.98L300.78 501.47L301.22 500.68L301.65 499.63L302.09 498.35L302.52 496.88L302.96 495.27L303.4 493.58L303.83 491.87L304.27 490.2L304.71 488.61L305.14 487.15L305.58 485.87L306.02 484.81L306.45 484L306.89 483.4L307.32 482.99L307.76 482.74L308.2 482.59L308.63 482.34L309.07 481.76L309.51 480.72L309.94 479.27L310.38 477.49L310.82 475.44L311.25 473.18L311.69 470.74L312.12 468.15L312.56 465.44L313 462.64L313.43 459.77L313.87 456.83L314.31 453.86L314.74 450.87L315.18 447.89L315.61 444.97L316.05 442.16L316.49 439.51L316.92 437.08L317.36 434.88L317.8 432.95L318.23 431.28L318.67 429.89L319.11 428.79L319.54 427.92L319.98 427.27L320.41 426.8L320.85 426.53L321.29 426.48L321.72 426.65L322.16 427.09L322.6 427.81L323.03 428.85L323.47 430.18L323.91 431.7L324.34 433.32L324.78 434.93L325.21 436.46L325.65 437.9L326.09 439.26L326.52 440.55L326.96 441.79L327.4 442.97L327.83 444.08L328.27 445.09L328.71 446L329.14 446.79L329.58 447.44L330.01 447.92L330.45 448.21L330.89 448.31L331.32 448.22L331.76 447.99L332.2 447.65L332.63 447.23L333.07 446.78L333.5 446.34L333.94 445.98L334.38 445.77L334.81 445.78L335.25 446.26L335.69 447.79L336.12 450.94L336.56 455.5L337 460.82L337.43 466.29L337.87 471.63L338.3 476.86L338.74 481.98L339.18 486.93L339.61 491.51L340.05 495.58L340.49 498.98L340.92 501.75L341.36 503.93L341.8 505.53L342.23 506.51L342.67 506.79L343.1 506.32L343.54 505.19L343.98 503.51L344.41 501.42L344.85 499.02L345.29 496.46L345.72 493.86L346.16 491.34L346.59 489.01L347.03 486.9L347.47 485.02L347.9 483.38L348.34 481.99L348.78 480.92L349.21 480.26L349.65 480.09L350.09 480.46L350.52 481.3L350.96 482.53L351.39 484.05L351.83 485.81L352.27 487.7L352.7 489.66L353.14 491.61L353.58 493.47L354.01 495.22L354.45 496.79L354.89 498.16L355.32 499.29L355.76 500.19L356.19 500.9L356.63 501.45L357.07 501.87L357.5 502.13L357.94 502.19L358.38 501.98L358.81 501.47L359.25 500.68L359.69 499.63L360.12 498.35L360.56 496.88L360.99 495.27L361.43 493.58L361.87 491.87L362.3 490.2L362.74 488.61L363.18 487.15L363.61 485.87L364.05 484.81L364.48 484L364.92 483.4L365.36 482.99L365.79 482.74L366.23 482.59L366.67 482.34L367.1 481.76L367.54 480.72L367.98 479.27L368.41 477.49L368.85 475.44L369.28 473.18L369.72 470.74L370.16 468.15L370.59 465.44L371.03 462.64L371.47 459.77L371.9 456.83L372.34 453.86L372.78 450.87L373.21 447.89L373.65 444.97L374.08 442.16L374.52 439.51L374.96 437.08L375.39 434.88L375.83 432.95L376.27 431.28L376.7 429.89L377.14 428.79L377.58 427.92L378.01 427.27L378.45 426.8L378.88 426.53L379.32 426.48L379.76 426.65L380.19 427.09L380.63 427.81L381.07 428.85L381.5 430.18L381.94 431.7L382.37 433.32L382.81 434.93L383.25 436.46L383.68 437.9L384.12 439.26L384.56 440.55L384.99 441.79L385.43 442.97L385.87 444.08L386.3 445.09L386.74 446L387.17 446.79L387.61 447.44L388.05 447.92L388.48 448.21L388.92 448.31L389.36 448.22L389.79 447.99L390.23 447.65L390.67 447.23L391.1 446.78L391.54 446.34L391.97 445.98L392.41 445.77L392.85 445.78L393.28 446.26L393.72 447.79L394.16 450.94L394.59 455.5L395.03 460.82L395.47 466.29L395.9 471.63L396.34 476.86L396.77 481.98L397.21 486.93L397.65 491.51L398.08 495.58L398.52 498.98L398.96 501.75L399.39 503.93L399.83 505.53L400.26 506.51L400.7 506.79L401.14 506.32L401.57 505.19L402.01 503.51L402.45 501.42L402.88 499.02L403.32 496.46L403.76 493.86L404.19 491.34L404.63 489.01L405.06 486.9L405.5 485.02L405.94 483.38L406.37 481.99L406.81 480.92L407.25 480.26L407.68 480.09L408.12 480.46L408.56 481.3L408.99 482.53L409.43 484.05L409.86 485.81L410.3 487.7L410.74 489.66L411.17 491.61L411.61 493.47L412.05 495.22L412.48 496.79L412.92 498.16L413.36 499.29L413.79 500.19L414.23 500.9L414.66 501.45L415.1 501.87L415.54 502.13L415.97 502.19L416.41 501.98L416.85 501.47L417.28 500.68L417.72 499.63L418.15 498.35L418.59 496.88L419.03 495.27L419.46 493.58L419.9 491.87L420.34 490.2L420.77 488.61L421.21 487.15L421.65 485.87L422.08 484.81L422.52 484L422.95 483.4L423.39 482.99L423.83 482.74L424.26 482.59L424.7 482.34" fill="none" stroke="#00ee00" stroke-width="1.15" stroke-linejoin="round" />
<path d="M250.6 482.27L251.04 481.79L251.47 480.84L251.91 479.48L252.35 477.78L252.78 475.82L253.22 473.64L253.65 471.3L254.09 468.8L254.53 466.17L254.96 463.44L255.4 460.63L255.84 457.75L256.27 454.81L256.71 451.83L257.15 448.84L257.58 445.91L258.02 443.09L258.45 440.46L258.89 438.06L259.33 435.91L259.76 434L260.2 432.29L260.64 430.78L261.07 429.48L261.51 428.47L261.94 427.78L262.38 427.45L262.82 427.41L263.25 427.62L263.69 428.08L264.13 428.82L264.56 429.86L265 431.19L265.44 432.73L265.87 434.38L266.31 436.06L266.74 437.68L267.18 439.2L267.62 440.63L268.05 441.94L268.49 443.12L268.93 444.18L269.36 445.13L269.8 446.01L270.24 446.83L270.67 447.61L271.11 448.33L271.54 448.95L271.98 449.47L272.42 449.86L272.85 450.1L273.29 450.2L273.73 450.15L274.16 449.95L274.6 449.59L275.04 449.05L275.47 448.32L275.91 447.51L276.34 446.88L276.78 446.72L277.22 447.35L277.65 449.21L278.09 452.66L278.53 457.42L278.96 462.78L279.4 468.05L279.83 473.05L280.27 477.93L280.71 482.84L281.14 487.7L281.58 492.23L282.02 496.13L282.45 499.19L282.89 501.44L283.33 502.97L283.76 503.87L284.2 504.13L284.63 503.76L285.07 502.81L285.51 501.35L285.94 499.46L286.38 497.22L286.82 494.77L287.25 492.23L287.69 489.74L288.13 487.4L288.56 485.26L289 483.34L289.43 481.66L289.87 480.26L290.31 479.16L290.74 478.45L291.18 478.16L291.62 478.36L292.05 479.04L292.49 480.16L292.93 481.66L293.36 483.48L293.8 485.52L294.23 487.64L294.67 489.74L295.11 491.69L295.54 493.47L295.98 495.07L296.42 496.49L296.85 497.73L297.29 498.79L297.72 499.67L298.16 500.37L298.6 500.88L299.03 501.21L299.47 501.29L299.91 501.07L300.34 500.52L300.78 499.66L301.22 498.53L301.65 497.19L302.09 495.68L302.52 494.06L302.96 492.38L303.4 490.73L303.83 489.14L304.27 487.66L304.71 486.33L305.14 485.16L305.58 484.2L306.02 483.46L306.45 482.92L306.89 482.57L307.32 482.4L307.76 482.38L308.2 482.4L308.63 482.27L309.07 481.79L309.51 480.84L309.94 479.48L310.38 477.78L310.82 475.82L311.25 473.64L311.69 471.3L312.12 468.8L312.56 466.17L313 463.44L313.43 460.63L313.87 457.75L314.31 454.81L314.74 451.83L315.18 448.84L315.61 445.91L316.05 443.09L316.49 440.46L316.92 438.06L317.36 435.91L317.8 434L318.23 432.29L318.67 430.78L319.11 429.48L319.54 428.47L319.98 427.78L320.41 427.45L320.85 427.41L321.29 427.62L321.72 428.08L322.16 428.82L322.6 429.86L323.03 431.19L323.47 432.73L323.91 434.38L324.34 436.06L324.78 437.68L325.21 439.2L325.65 440.63L326.09 441.94L326.52 443.12L326.96 444.18L327.4 445.13L327.83 446.01L328.27 446.83L328.71 447.61L329.14 448.33L329.58 448.95L330.01 449.47L330.45 449.86L330.89 450.1L331.32 450.2L331.76 450.15L332.2 449.95L332.63 449.59L333.07 449.05L333.5 448.32L333.94 447.51L334.38 446.88L334.81 446.72L335.25 447.35L335.69 449.21L336.12 452.66L336.56 457.42L337 462.78L337.43 468.05L337.87 473.05L338.3 477.93L338.74 482.84L339.18 487.7L339.61 492.23L340.05 496.13L340.49 499.19L340.92 501.44L341.36 502.97L341.8 503.87L342.23 504.13L342.67 503.76L343.1 502.81L343.54 501.35L343.98 499.46L344.41 497.22L344.85 494.77L345.29 492.23L345.72 489.74L346.16 487.4L346.59 485.26L347.03 483.34L347.47 481.66L347.9 480.26L348.34 479.16L348.78 478.45L349.21 478.16L349.65 478.36L350.09 479.04L350.52 480.16L350.96 481.66L351.39 483.48L351.83 485.52L352.27 487.64L352.7 489.74L353.14 491.69L353.58 493.47L354.01 495.07L354.45 496.49L354.89 497.73L355.32 498.79L355.76 499.67L356.19 500.37L356.63 500.88L357.07 501.21L357.5 501.29L357.94 501.07L358.38 500.52L358.81 499.66L359.25 498.53L359.69 497.19L360.12 495.68L360.56 494.06L360.99 492.38L361.43 490.73L361.87 489.14L362.3 487.66L362.74 486.33L363.18 485.16L363.61 484.2L364.05 483.46L364.48 482.92L364.92 482.57L365.36 482.4L365.79 482.38L366.23 482.4L366.67 482.27L367.1 481.79L367.54 480.84L367.98 479.48L368.41 477.78L368.85 475.82L369.28 473.64L369.72 471.3L370.16 468.8L370.59 466.17L371.03 463.44L371.47 460.63L371.9 457.75L372.34 454.81L372.78 451.83L373.21 448.84L373.65 445.91L374.08 443.09L374.52 440.46L374.96 438.06L375.39 435.91L375.83 434L376.27 432.29L376.7 430.78L377.14 429.48L377.58 428.47L378.01 427.78L378.45 427.45L378.88 427.41L379.32 427.62L379.76 428.08L380.19 428.82L380.63 429.86L381.07 431.19L381.5 432.73L381.94 434.38L382.37 436.06L382.81 437.68L383.25 439.2L383.68 440.63L384.12 441.94L384.56 443.12L384.99 444.18L385.43 445.13L385.87 446.01L386.3 446.83L386.74 447.61L387.17 448.33L387.61 448.95L388.05 449.47L388.48 449.86L388.92 450.1L389.36 450.2L389.79 450.15L390.23 449.95L390.67 449.59L391.1 449.05L391.54 448.32L391.97 447.51L392.41 446.88L392.85 446.72L393.28 447.35L393.72 449.21L394.16 452.66L394.59 457.42L395.03 462.78L395.47 468.05L395.9 473.05L396.34 477.93L396.77 482.84L397.21 487.7L397.65 492.23L398.08 496.13L398.52 499.19L398.96 501.44L399.39 502.97L399.83 503.87L400.26 504.13L400.7 503.76L401.14 502.81L401.57 501.35L402.01 499.46L402.45 497.22L402.88 494.77L403.32 492.23L403.76 489.74L404.19 487.4L404.63 485.26L405.06 483.34L405.5 481.66L405.94 480.26L406.37 479.16L406.81 478.45L407.25 478.16L407.68 478.36L408.12 479.04L408.56 480.16L408.99 481.66L409.43 483.48L409.86 485.52L410.3 487.64L410.74 489.74L411.17 491.69L411.61 493.47L412.05 495.07L412.48 496.49L412.92 497.73L413.36 498.79L413.79 499.67L414.23 500.37L414.66 500.88L415.1 501.21L415.54 501.29L415.97 501.07L416.41 500.52L416.85 499.66L417.28 498.53L417.72 497.19L418.15 495.68L418.59 494.06L419.03 492.38L419.46 490.73L419.9 489.14L420.34 487.66L420.77 486.33L421.21 485.16L421.65 484.2L422.08 483.46L422.52 482.92L422.95 482.57L423.39 482.4L423.83 482.38L424.26 482.4L424.7 482.27" fill="none" stroke="#ff1a1a" stroke-width="1.2" stroke-linejoin="round" />
</g>
<rect x="250.6" y="381.5" width="174.1" height="139.5" fill="none" stroke="#969696" stroke-width="1.0"/>
<path d="M250.6 521v-1.8M250.6 381.5v1.8M308.63 521v-1.8M308.63 381.5v1.8M366.67 521v-1.8M366.67 381.5v1.8M424.7 521v-1.8M424.7 381.5v1.8M250.6 521h1.8M424.7 521h-1.8M250.6 474.5h1.8M424.7 474.5h-1.8M250.6 428h1.8M424.7 428h-1.8M250.6 381.5h1.8M424.7 381.5h-1.8" stroke="#969696" stroke-width="0.8" fill="none"/>
<text x="250.6" y="532.9" text-anchor="middle" font-size="8.4" font-weight="bold">0.297</text>
<text x="308.63" y="532.9" text-anchor="middle" font-size="8.4" font-weight="bold">0.298</text>
<text x="366.67" y="532.9" text-anchor="middle" font-size="8.4" font-weight="bold">0.299</text>
<text x="424.7" y="532.9" text-anchor="middle" font-size="8.4" font-weight="bold">0.3</text>
<text x="247.9" y="524.45" text-anchor="end" font-size="8.4" font-weight="bold">0</text>
<text x="247.9" y="477.62" text-anchor="end" font-size="8.4" font-weight="bold">6</text>
<text x="247.9" y="430.78" text-anchor="end" font-size="8.4" font-weight="bold">12</text>
<text x="247.9" y="383.95" text-anchor="end" font-size="8.4" font-weight="bold">18</text>
<text x="337.65" y="544.2" text-anchor="middle" font-size="9.5" font-weight="bold">Time (<tspan font-style="italic">t</tspan>/s)</text>
<text transform="translate(235.6 451.25) rotate(-90)" text-anchor="middle" font-size="9.3" font-weight="bold">DTE-backlash (<tspan font-style="italic">δ</tspan>-<tspan font-style="italic">b</tspan><tspan font-size="6.5" dy="2.2">t</tspan><tspan dy="-2.2" font-size="1">&#8203;</tspan>/<tspan font-style="italic">μ</tspan>m)</text>
<text x="223.4" y="373.2" font-size="11.2" class="ns">(f)</text>
<rect x="316.6" y="381.8" width="107" height="39.3" fill="#fff" stroke="#7a7a7a" stroke-width="0.9"/>
<line x1="318.5" y1="387.6" x2="333.7" y2="387.6" stroke="#1a1a1a" stroke-width="0.9"/>
<text x="335.9" y="390.4" font-size="7.6" font-weight="bold">previous model with <tspan font-style="italic">μ</tspan>=0</text>
<line x1="318.5" y1="397.3" x2="333.7" y2="397.3" stroke="#4646ff" stroke-width="1.0"/>
<text x="335.9" y="400.1" font-size="7.6" font-weight="bold">previous model with <tspan font-style="italic">μ</tspan>=0.2</text>
<line x1="318.5" y1="406.7" x2="333.7" y2="406.7" stroke="#00f000" stroke-width="1.0"/>
<text x="335.9" y="409.5" font-size="7.6" font-weight="bold">new model with <tspan font-style="italic">μ</tspan>=0</text>
<line x1="318.5" y1="416.3" x2="333.7" y2="416.3" stroke="#ff3c3c" stroke-width="1.0"/>
<text x="335.9" y="419.1" font-size="7.6" font-weight="bold">new model with <tspan font-style="italic">μ</tspan>=0.2</text>
<text x="252.7" y="411" font-size="8.4" class="cy">pitch point impact</text>
<path d="M278 414L271.6 429" stroke="#12b0f0" stroke-width="1" fill="none"/>
<path d="M270.2 432.4L269.6 426.6L274.6 428.8Z" fill="#12b0f0"/>
</g>
</svg></body></html>
